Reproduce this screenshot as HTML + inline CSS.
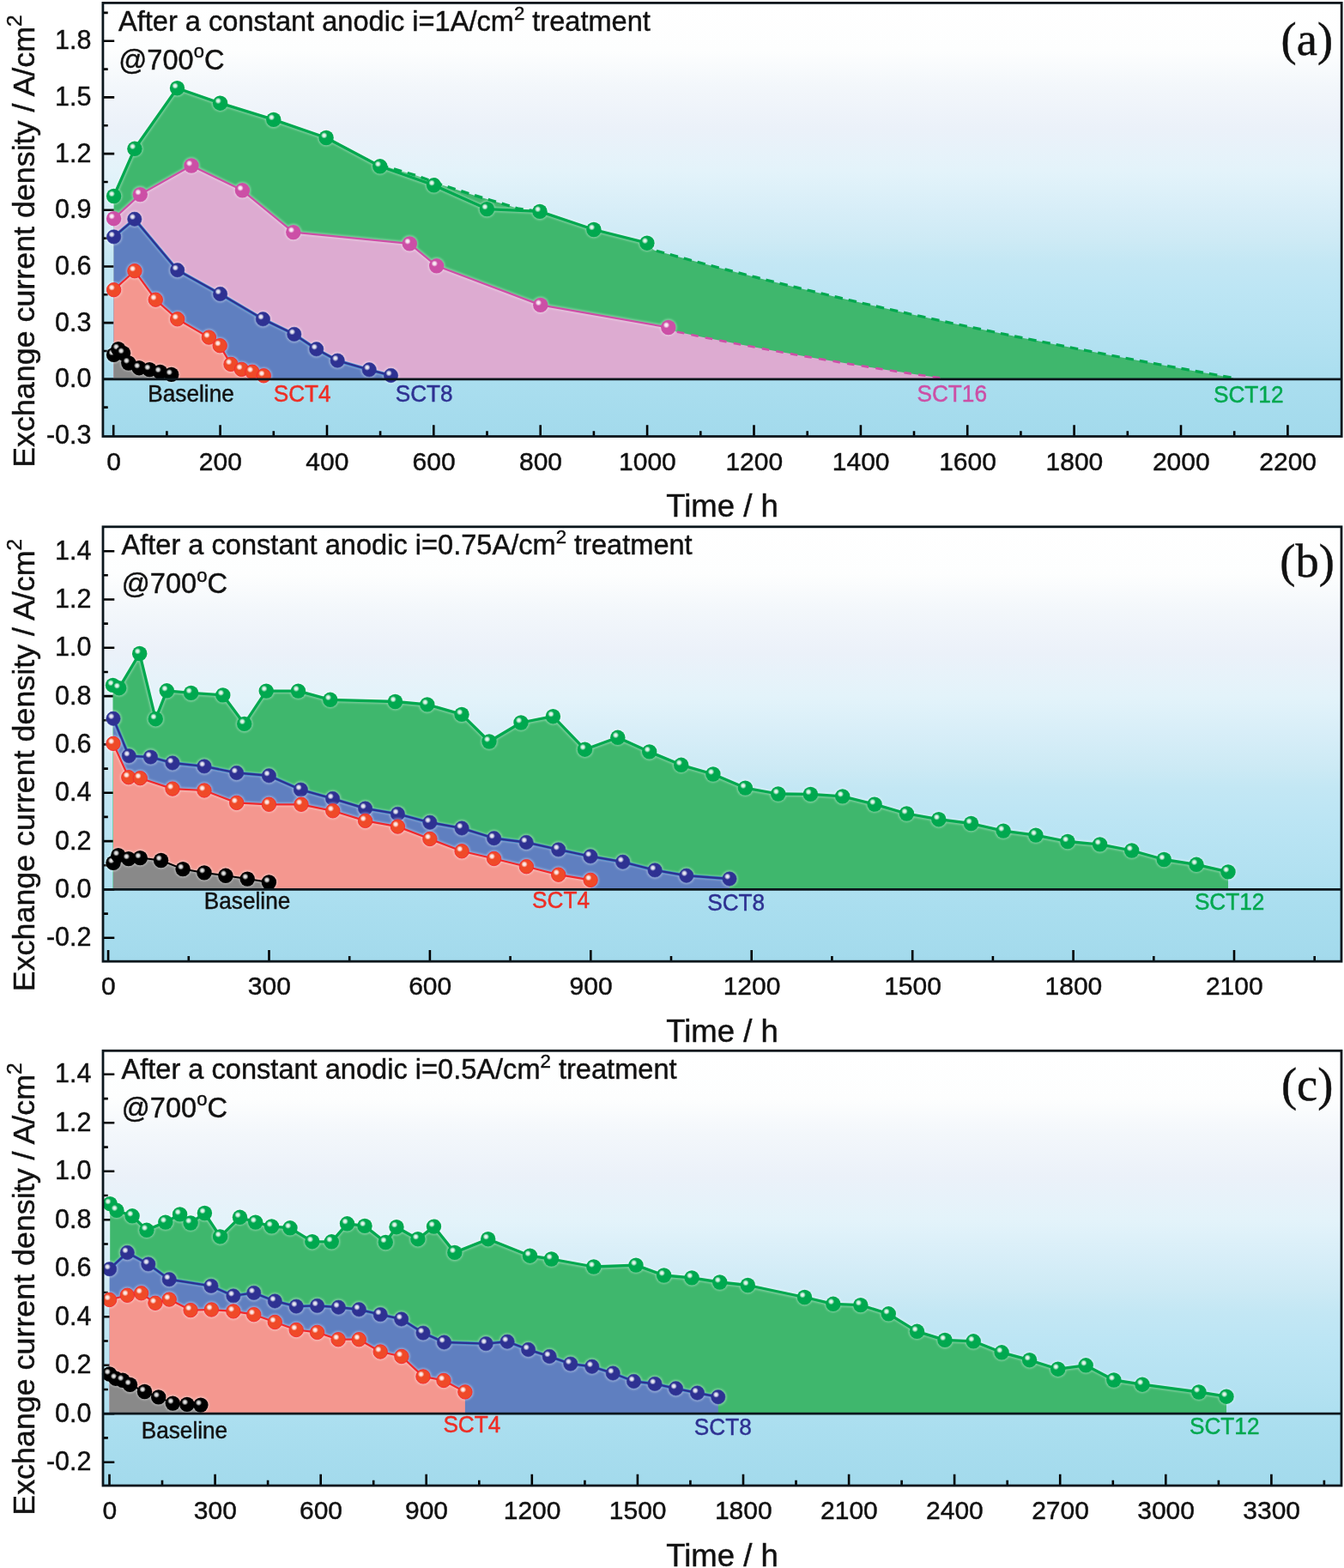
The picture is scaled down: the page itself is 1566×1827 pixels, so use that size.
<!DOCTYPE html>
<html><head><meta charset="utf-8"><title>Exchange current density vs time</title>
<style>html,body{margin:0;padding:0;background:#fff;}body{width:1566px;height:1827px;overflow:hidden;}svg{display:block;}text{font-family:"Liberation Sans",Arial,sans-serif;stroke-width:0.45;}.ser{font-family:"Liberation Serif","Times New Roman",serif;}</style>
</head><body>
<svg width="1566" height="1827" viewBox="0 0 1566 1827">
<defs>
<linearGradient id="bga" x1="0" y1="3.4" x2="0" y2="508.5" gradientUnits="userSpaceOnUse">
<stop offset="0" stop-color="#ffffff"/><stop offset="0.11" stop-color="#fdfefe"/><stop offset="0.19" stop-color="#f3f7fb"/><stop offset="0.29" stop-color="#ebf1f9"/><stop offset="0.39" stop-color="#e3f3fa"/><stop offset="0.47" stop-color="#d8eef8"/><stop offset="0.55" stop-color="#cdeaf5"/><stop offset="0.6" stop-color="#c3e7f4"/><stop offset="0.67" stop-color="#bce5f4"/><stop offset="0.79" stop-color="#b2e1f1"/><stop offset="0.87" stop-color="#aadeef"/><stop offset="1" stop-color="#a3daec"/>
</linearGradient>
<linearGradient id="bgb" x1="0" y1="613.8" x2="0" y2="1120.2" gradientUnits="userSpaceOnUse">
<stop offset="0" stop-color="#ffffff"/><stop offset="0.11" stop-color="#fdfefe"/><stop offset="0.19" stop-color="#f3f7fb"/><stop offset="0.29" stop-color="#ebf1f9"/><stop offset="0.39" stop-color="#e3f3fa"/><stop offset="0.47" stop-color="#d8eef8"/><stop offset="0.55" stop-color="#cdeaf5"/><stop offset="0.6" stop-color="#c3e7f4"/><stop offset="0.67" stop-color="#bce5f4"/><stop offset="0.79" stop-color="#b2e1f1"/><stop offset="0.87" stop-color="#aadeef"/><stop offset="1" stop-color="#a3daec"/>
</linearGradient>
<linearGradient id="bgc" x1="0" y1="1224.3" x2="0" y2="1731" gradientUnits="userSpaceOnUse">
<stop offset="0" stop-color="#ffffff"/><stop offset="0.11" stop-color="#fdfefe"/><stop offset="0.19" stop-color="#f3f7fb"/><stop offset="0.29" stop-color="#ebf1f9"/><stop offset="0.39" stop-color="#e3f3fa"/><stop offset="0.47" stop-color="#d8eef8"/><stop offset="0.55" stop-color="#cdeaf5"/><stop offset="0.6" stop-color="#c3e7f4"/><stop offset="0.67" stop-color="#bce5f4"/><stop offset="0.79" stop-color="#b2e1f1"/><stop offset="0.87" stop-color="#aadeef"/><stop offset="1" stop-color="#a3daec"/>
</linearGradient>
<radialGradient id="hl"><stop offset="0" stop-color="#fff" stop-opacity="0.95"/><stop offset="0.45" stop-color="#fff" stop-opacity="0.8"/><stop offset="1" stop-color="#fff" stop-opacity="0"/></radialGradient>
<filter id="hb" x="-5%" y="-5%" width="110%" height="110%"><feGaussianBlur stdDeviation="0.9"/></filter>
</defs>
<rect width="1566" height="1827" fill="#fff"/>
<rect x="119.9" y="3.4" width="1443.3" height="505.1" fill="url(#bga)"/>
<path d="M119.9 474.6H125.7M119.9 441.8H133.2M119.9 409H125.7M119.9 376.1H133.2M119.9 343.3H125.7M119.9 310.5H133.2M119.9 277.6H125.7M119.9 244.8H133.2M119.9 212H125.7M119.9 179.1H133.2M119.9 146.3H125.7M119.9 113.4H133.2M119.9 80.6H125.7M119.9 47.8H133.2M119.9 14.9H125.7M132.2 508.5V495.2M194.4 508.5V502.2M256.6 508.5V495.2M318.8 508.5V502.2M381 508.5V495.2M443.1 508.5V502.2M505.3 508.5V495.2M567.5 508.5V502.2M629.7 508.5V495.2M691.9 508.5V502.2M754.1 508.5V495.2M816.3 508.5V502.2M878.5 508.5V495.2M940.7 508.5V502.2M1002.9 508.5V495.2M1065 508.5V502.2M1127.2 508.5V495.2M1189.4 508.5V502.2M1251.6 508.5V495.2M1313.8 508.5V502.2M1376 508.5V495.2M1438.2 508.5V502.2M1500.4 508.5V495.2" stroke="#000" stroke-width="2.6" fill="none"/>
<polygon points="132.6,441.8 132.6,228.5 156.9,173.3 206.5,102.7 256.6,120.2 318.8,139.4 380.1,160.5 442.8,193.8 452.8,195 483.6,204.1 517.2,216.2 550.7,226.9 570.8,233 590.9,239 604.3,243.2 629,246.4 691.9,267.5 753.9,283.2 762,291.4 774,294.7 786,298 798,301.3 810,304.6 822,307.8 834,311 846,314.1 858,317.2 870,320.3 882,323.4 894,326.5 906,329.5 918,332.4 930,335.4 942,338.3 954,341.2 966,344.1 978,346.9 990,349.8 1002,352.6 1014,355.3 1026,358.1 1038,360.8 1050,363.5 1062,366.2 1074,368.8 1086,371.5 1098,374.1 1110,376.7 1122,379.2 1134,381.8 1146,384.3 1158,386.8 1170,389.3 1182,391.8 1194,394.2 1206,396.6 1218,399 1230,401.4 1242,403.8 1254,406.2 1266,408.5 1278,410.8 1290,413.2 1302,415.5 1314,417.7 1326,420 1338,422.3 1350,424.5 1362,426.7 1374,429 1386,431.2 1398,433.4 1410,435.5 1422,437.7 1434,439.9 1437,440.6 1437,441.8" fill="#3fb76d"/>
<g opacity="0.35" filter="url(#hb)"><polyline points="132.6,228.5 156.9,173.3 206.5,102.7 256.6,120.2 318.8,139.4 380.1,160.5 442.8,193.8 505.5,215.8 567.4,243.6 629,246.4 691.9,267.5 753.9,283.2" fill="none" stroke="#fff" stroke-width="5.9" stroke-linejoin="round"/><circle cx="132.6" cy="228.5" r="10" fill="#fff"/><circle cx="156.9" cy="173.3" r="10" fill="#fff"/><circle cx="206.5" cy="102.7" r="10" fill="#fff"/><circle cx="256.6" cy="120.2" r="10" fill="#fff"/><circle cx="318.8" cy="139.4" r="10" fill="#fff"/><circle cx="380.1" cy="160.5" r="10" fill="#fff"/><circle cx="442.8" cy="193.8" r="10" fill="#fff"/><circle cx="505.5" cy="215.8" r="10" fill="#fff"/><circle cx="567.4" cy="243.6" r="10" fill="#fff"/><circle cx="629" cy="246.4" r="10" fill="#fff"/><circle cx="691.9" cy="267.5" r="10" fill="#fff"/><circle cx="753.9" cy="283.2" r="10" fill="#fff"/></g>
<polyline points="132.6,228.5 156.9,173.3 206.5,102.7 256.6,120.2 318.8,139.4 380.1,160.5 442.8,193.8 505.5,215.8 567.4,243.6 629,246.4 691.9,267.5 753.9,283.2" fill="none" stroke="#00a84f" stroke-width="3.3" stroke-linejoin="round"/>
<polyline points="753.9,283.2 762,291.4 774,294.7 786,298 798,301.3 810,304.6 822,307.8 834,311 846,314.1 858,317.2 870,320.3 882,323.4 894,326.5 906,329.5 918,332.4 930,335.4 942,338.3 954,341.2 966,344.1 978,346.9 990,349.8 1002,352.6 1014,355.3 1026,358.1 1038,360.8 1050,363.5 1062,366.2 1074,368.8 1086,371.5 1098,374.1 1110,376.7 1122,379.2 1134,381.8 1146,384.3 1158,386.8 1170,389.3 1182,391.8 1194,394.2 1206,396.6 1218,399 1230,401.4 1242,403.8 1254,406.2 1266,408.5 1278,410.8 1290,413.2 1302,415.5 1314,417.7 1326,420 1338,422.3 1350,424.5 1362,426.7 1374,429 1386,431.2 1398,433.4 1410,435.5 1422,437.7 1434,439.9 1437,440.6" fill="none" stroke="#00a84f" stroke-width="3.2" stroke-dasharray="9.5 7" stroke-dashoffset="2"/>
<polyline points="442.8,193.8 452.8,195 483.6,204.1 517.2,216.2 550.7,226.9 570.8,233 590.9,239 604.3,243.2 629,246.4" fill="none" stroke="#00a84f" stroke-width="3.2" stroke-dasharray="9.5 7"/>
<circle cx="132.6" cy="228.5" r="8.7" fill="#00a84f"/><circle cx="130.2" cy="225.8" r="3.8" fill="url(#hl)"/><circle cx="156.9" cy="173.3" r="8.7" fill="#00a84f"/><circle cx="154.5" cy="170.6" r="3.8" fill="url(#hl)"/><circle cx="206.5" cy="102.7" r="8.7" fill="#00a84f"/><circle cx="204.1" cy="100" r="3.8" fill="url(#hl)"/><circle cx="256.6" cy="120.2" r="8.7" fill="#00a84f"/><circle cx="254.2" cy="117.5" r="3.8" fill="url(#hl)"/><circle cx="318.8" cy="139.4" r="8.7" fill="#00a84f"/><circle cx="316.4" cy="136.7" r="3.8" fill="url(#hl)"/><circle cx="380.1" cy="160.5" r="8.7" fill="#00a84f"/><circle cx="377.7" cy="157.8" r="3.8" fill="url(#hl)"/><circle cx="442.8" cy="193.8" r="8.7" fill="#00a84f"/><circle cx="440.4" cy="191.1" r="3.8" fill="url(#hl)"/><circle cx="505.5" cy="215.8" r="8.7" fill="#00a84f"/><circle cx="503.1" cy="213.1" r="3.8" fill="url(#hl)"/><circle cx="567.4" cy="243.6" r="8.7" fill="#00a84f"/><circle cx="565" cy="240.9" r="3.8" fill="url(#hl)"/><circle cx="629" cy="246.4" r="8.7" fill="#00a84f"/><circle cx="626.6" cy="243.7" r="3.8" fill="url(#hl)"/><circle cx="691.9" cy="267.5" r="8.7" fill="#00a84f"/><circle cx="689.5" cy="264.8" r="3.8" fill="url(#hl)"/><circle cx="753.9" cy="283.2" r="8.7" fill="#00a84f"/><circle cx="751.5" cy="280.5" r="3.8" fill="url(#hl)"/>
<polygon points="132.6,441.8 132.6,254.7 163.3,226.6 223,193 282.4,221.8 341.8,270.6 477.3,283.9 508.7,309.8 629.8,355.4 778.8,381.5 786,386.1 798,388.5 810,391 822,393.4 834,395.8 846,398.1 858,400.5 870,402.8 882,405 894,407.3 906,409.5 918,411.6 930,413.8 942,415.9 954,418 966,420 978,422.1 990,424.1 1002,426 1014,427.9 1026,429.9 1038,431.7 1050,433.6 1062,435.4 1074,437.2 1086,438.9 1096,440.5 1096,441.8" fill="#ddabd1"/>
<g opacity="0.35" filter="url(#hb)"><polyline points="132.6,254.7 163.3,226.6 223,193 282.4,221.8 341.8,270.6 477.3,283.9 508.7,309.8 629.8,355.4 778.8,381.5" fill="none" stroke="#fff" stroke-width="4.800000000000001" stroke-linejoin="round"/><circle cx="132.6" cy="254.7" r="10" fill="#fff"/><circle cx="163.3" cy="226.6" r="10" fill="#fff"/><circle cx="223" cy="193" r="10" fill="#fff"/><circle cx="282.4" cy="221.8" r="10" fill="#fff"/><circle cx="341.8" cy="270.6" r="10" fill="#fff"/><circle cx="477.3" cy="283.9" r="10" fill="#fff"/><circle cx="508.7" cy="309.8" r="10" fill="#fff"/><circle cx="629.8" cy="355.4" r="10" fill="#fff"/><circle cx="778.8" cy="381.5" r="10" fill="#fff"/></g>
<polyline points="132.6,254.7 163.3,226.6 223,193 282.4,221.8 341.8,270.6 477.3,283.9 508.7,309.8 629.8,355.4 778.8,381.5" fill="none" stroke="#cc4fa6" stroke-width="2.2" stroke-linejoin="round"/>
<polyline points="778.8,381.5 786,386.1 798,388.5 810,391 822,393.4 834,395.8 846,398.1 858,400.5 870,402.8 882,405 894,407.3 906,409.5 918,411.6 930,413.8 942,415.9 954,418 966,420 978,422.1 990,424.1 1002,426 1014,427.9 1026,429.9 1038,431.7 1050,433.6 1062,435.4 1074,437.2 1086,438.9 1096,440.5" fill="none" stroke="#cc4fa6" stroke-width="2.6" stroke-dasharray="8.5 8.3" stroke-dashoffset="5.3"/>
<circle cx="132.6" cy="254.7" r="8.7" fill="#cc4fa6"/><circle cx="130.2" cy="252" r="3.8" fill="url(#hl)"/><circle cx="163.3" cy="226.6" r="8.7" fill="#cc4fa6"/><circle cx="160.9" cy="223.9" r="3.8" fill="url(#hl)"/><circle cx="223" cy="193" r="8.7" fill="#cc4fa6"/><circle cx="220.6" cy="190.3" r="3.8" fill="url(#hl)"/><circle cx="282.4" cy="221.8" r="8.7" fill="#cc4fa6"/><circle cx="280" cy="219.1" r="3.8" fill="url(#hl)"/><circle cx="341.8" cy="270.6" r="8.7" fill="#cc4fa6"/><circle cx="339.4" cy="267.9" r="3.8" fill="url(#hl)"/><circle cx="477.3" cy="283.9" r="8.7" fill="#cc4fa6"/><circle cx="474.9" cy="281.2" r="3.8" fill="url(#hl)"/><circle cx="508.7" cy="309.8" r="8.7" fill="#cc4fa6"/><circle cx="506.3" cy="307.1" r="3.8" fill="url(#hl)"/><circle cx="629.8" cy="355.4" r="8.7" fill="#cc4fa6"/><circle cx="627.4" cy="352.7" r="3.8" fill="url(#hl)"/><circle cx="778.8" cy="381.5" r="8.7" fill="#cc4fa6"/><circle cx="776.4" cy="378.8" r="3.8" fill="url(#hl)"/>
<polygon points="132.6,441.8 132.6,275.9 156.8,255.3 206.7,314.7 256.6,342.5 306.4,371.8 342.8,389.4 368.7,406.8 393.2,420.1 430.2,430.8 455.5,437.5 455.5,441.8" fill="#5f7fc0"/>
<g opacity="0.35" filter="url(#hb)"><polyline points="132.6,275.9 156.8,255.3 206.7,314.7 256.6,342.5 306.4,371.8 342.8,389.4 368.7,406.8 393.2,420.1 430.2,430.8 455.5,437.5" fill="none" stroke="#fff" stroke-width="5.0" stroke-linejoin="round"/><circle cx="132.6" cy="275.9" r="10" fill="#fff"/><circle cx="156.8" cy="255.3" r="10" fill="#fff"/><circle cx="206.7" cy="314.7" r="10" fill="#fff"/><circle cx="256.6" cy="342.5" r="10" fill="#fff"/><circle cx="306.4" cy="371.8" r="10" fill="#fff"/><circle cx="342.8" cy="389.4" r="10" fill="#fff"/><circle cx="368.7" cy="406.8" r="10" fill="#fff"/><circle cx="393.2" cy="420.1" r="10" fill="#fff"/><circle cx="430.2" cy="430.8" r="10" fill="#fff"/><circle cx="455.5" cy="437.5" r="10" fill="#fff"/></g>
<polyline points="132.6,275.9 156.8,255.3 206.7,314.7 256.6,342.5 306.4,371.8 342.8,389.4 368.7,406.8 393.2,420.1 430.2,430.8 455.5,437.5" fill="none" stroke="#2a8ad0" stroke-width="3.8" stroke-linejoin="round" opacity="0.8"/>
<polyline points="132.6,275.9 156.8,255.3 206.7,314.7 256.6,342.5 306.4,371.8 342.8,389.4 368.7,406.8 393.2,420.1 430.2,430.8 455.5,437.5" fill="none" stroke="#2e3192" stroke-width="2.4" stroke-linejoin="round"/>
<circle cx="132.6" cy="275.9" r="8.2" fill="#2e3192" stroke="#2a3a9c" stroke-width="0.6"/><circle cx="130.2" cy="273.2" r="3.8" fill="url(#hl)"/><circle cx="156.8" cy="255.3" r="8.2" fill="#2e3192" stroke="#2a3a9c" stroke-width="0.6"/><circle cx="154.4" cy="252.6" r="3.8" fill="url(#hl)"/><circle cx="206.7" cy="314.7" r="8.2" fill="#2e3192" stroke="#2a3a9c" stroke-width="0.6"/><circle cx="204.3" cy="312" r="3.8" fill="url(#hl)"/><circle cx="256.6" cy="342.5" r="8.2" fill="#2e3192" stroke="#2a3a9c" stroke-width="0.6"/><circle cx="254.2" cy="339.8" r="3.8" fill="url(#hl)"/><circle cx="306.4" cy="371.8" r="8.2" fill="#2e3192" stroke="#2a3a9c" stroke-width="0.6"/><circle cx="304" cy="369.1" r="3.8" fill="url(#hl)"/><circle cx="342.8" cy="389.4" r="8.2" fill="#2e3192" stroke="#2a3a9c" stroke-width="0.6"/><circle cx="340.4" cy="386.7" r="3.8" fill="url(#hl)"/><circle cx="368.7" cy="406.8" r="8.2" fill="#2e3192" stroke="#2a3a9c" stroke-width="0.6"/><circle cx="366.3" cy="404.1" r="3.8" fill="url(#hl)"/><circle cx="393.2" cy="420.1" r="8.2" fill="#2e3192" stroke="#2a3a9c" stroke-width="0.6"/><circle cx="390.8" cy="417.4" r="3.8" fill="url(#hl)"/><circle cx="430.2" cy="430.8" r="8.2" fill="#2e3192" stroke="#2a3a9c" stroke-width="0.6"/><circle cx="427.8" cy="428.1" r="3.8" fill="url(#hl)"/><circle cx="455.5" cy="437.5" r="8.2" fill="#2e3192" stroke="#2a3a9c" stroke-width="0.6"/><circle cx="453.1" cy="434.8" r="3.8" fill="url(#hl)"/>
<polygon points="132.6,441.8 132.6,337.7 156.9,315.7 181.3,349.2 206.7,371.8 243.4,393.1 256.2,402.7 269,424.4 281.4,430.4 293.9,433.3 307.3,437.8 307.3,441.8" fill="#f4978f"/>
<g opacity="0.35" filter="url(#hb)"><polyline points="132.6,337.7 156.9,315.7 181.3,349.2 206.7,371.8 243.4,393.1 256.2,402.7 269,424.4 281.4,430.4 293.9,433.3 307.3,437.8" fill="none" stroke="#fff" stroke-width="4.800000000000001" stroke-linejoin="round"/><circle cx="132.6" cy="337.7" r="10" fill="#fff"/><circle cx="156.9" cy="315.7" r="10" fill="#fff"/><circle cx="181.3" cy="349.2" r="10" fill="#fff"/><circle cx="206.7" cy="371.8" r="10" fill="#fff"/><circle cx="243.4" cy="393.1" r="10" fill="#fff"/><circle cx="256.2" cy="402.7" r="10" fill="#fff"/><circle cx="269" cy="424.4" r="10" fill="#fff"/><circle cx="281.4" cy="430.4" r="10" fill="#fff"/><circle cx="293.9" cy="433.3" r="10" fill="#fff"/><circle cx="307.3" cy="437.8" r="10" fill="#fff"/></g>
<polyline points="132.6,337.7 156.9,315.7 181.3,349.2 206.7,371.8 243.4,393.1 256.2,402.7 269,424.4 281.4,430.4 293.9,433.3 307.3,437.8" fill="none" stroke="#f0282c" stroke-width="2.2" stroke-linejoin="round"/>
<circle cx="132.6" cy="337.7" r="8.2" fill="#ef4a28" stroke="#f5262e" stroke-width="0.9"/><circle cx="130.2" cy="335" r="3.8" fill="url(#hl)"/><circle cx="156.9" cy="315.7" r="8.2" fill="#ef4a28" stroke="#f5262e" stroke-width="0.9"/><circle cx="154.5" cy="313" r="3.8" fill="url(#hl)"/><circle cx="181.3" cy="349.2" r="8.2" fill="#ef4a28" stroke="#f5262e" stroke-width="0.9"/><circle cx="178.9" cy="346.5" r="3.8" fill="url(#hl)"/><circle cx="206.7" cy="371.8" r="8.2" fill="#ef4a28" stroke="#f5262e" stroke-width="0.9"/><circle cx="204.3" cy="369.1" r="3.8" fill="url(#hl)"/><circle cx="243.4" cy="393.1" r="8.2" fill="#ef4a28" stroke="#f5262e" stroke-width="0.9"/><circle cx="241" cy="390.4" r="3.8" fill="url(#hl)"/><circle cx="256.2" cy="402.7" r="8.2" fill="#ef4a28" stroke="#f5262e" stroke-width="0.9"/><circle cx="253.8" cy="400" r="3.8" fill="url(#hl)"/><circle cx="269" cy="424.4" r="8.2" fill="#ef4a28" stroke="#f5262e" stroke-width="0.9"/><circle cx="266.6" cy="421.7" r="3.8" fill="url(#hl)"/><circle cx="281.4" cy="430.4" r="8.2" fill="#ef4a28" stroke="#f5262e" stroke-width="0.9"/><circle cx="279" cy="427.7" r="3.8" fill="url(#hl)"/><circle cx="293.9" cy="433.3" r="8.2" fill="#ef4a28" stroke="#f5262e" stroke-width="0.9"/><circle cx="291.5" cy="430.6" r="3.8" fill="url(#hl)"/><circle cx="307.3" cy="437.8" r="8.2" fill="#ef4a28" stroke="#f5262e" stroke-width="0.9"/><circle cx="304.9" cy="435.1" r="3.8" fill="url(#hl)"/>
<polygon points="132.6,441.8 132.6,413.4 137.8,406.7 143.5,411.5 149.8,423 162.1,428.7 174.2,430.6 186.6,433.5 199.7,436.4 199.7,441.8" fill="#898989"/>
<g opacity="0.35" filter="url(#hb)"><polyline points="132.6,413.4 137.8,406.7 143.5,411.5 149.8,423 162.1,428.7 174.2,430.6 186.6,433.5 199.7,436.4" fill="none" stroke="#fff" stroke-width="4.6" stroke-linejoin="round"/><circle cx="132.6" cy="413.4" r="10" fill="#fff"/><circle cx="137.8" cy="406.7" r="10" fill="#fff"/><circle cx="143.5" cy="411.5" r="10" fill="#fff"/><circle cx="149.8" cy="423" r="10" fill="#fff"/><circle cx="162.1" cy="428.7" r="10" fill="#fff"/><circle cx="174.2" cy="430.6" r="10" fill="#fff"/><circle cx="186.6" cy="433.5" r="10" fill="#fff"/><circle cx="199.7" cy="436.4" r="10" fill="#fff"/></g>
<polyline points="132.6,413.4 137.8,406.7 143.5,411.5 149.8,423 162.1,428.7 174.2,430.6 186.6,433.5 199.7,436.4" fill="none" stroke="#000000" stroke-width="2.0" stroke-linejoin="round"/>
<circle cx="132.6" cy="413.4" r="8.7" fill="#000000"/><circle cx="130.2" cy="410.7" r="3.8" fill="url(#hl)"/><circle cx="137.8" cy="406.7" r="8.7" fill="#000000"/><circle cx="135.4" cy="404" r="3.8" fill="url(#hl)"/><circle cx="143.5" cy="411.5" r="8.7" fill="#000000"/><circle cx="141.1" cy="408.8" r="3.8" fill="url(#hl)"/><circle cx="149.8" cy="423" r="8.7" fill="#000000"/><circle cx="147.4" cy="420.3" r="3.8" fill="url(#hl)"/><circle cx="162.1" cy="428.7" r="8.7" fill="#000000"/><circle cx="159.7" cy="426" r="3.8" fill="url(#hl)"/><circle cx="174.2" cy="430.6" r="8.7" fill="#000000"/><circle cx="171.8" cy="427.9" r="3.8" fill="url(#hl)"/><circle cx="186.6" cy="433.5" r="8.7" fill="#000000"/><circle cx="184.2" cy="430.8" r="3.8" fill="url(#hl)"/><circle cx="199.7" cy="436.4" r="8.7" fill="#000000"/><circle cx="197.3" cy="433.7" r="3.8" fill="url(#hl)"/>
<line x1="119.9" y1="441.8" x2="1563.2" y2="441.8" stroke="#0b161c" stroke-width="2.8"/>
<rect x="119.9" y="3.4" width="1443.3" height="505.1" fill="none" stroke="#0b161c" stroke-width="2.8"/>
<text x="106.5" y="517.1" font-size="30.5" text-anchor="end" fill="#111" stroke="#111">-0.3</text>
<text x="106.5" y="451.4" font-size="30.5" text-anchor="end" fill="#111" stroke="#111">0.0</text>
<text x="106.5" y="385.7" font-size="30.5" text-anchor="end" fill="#111" stroke="#111">0.3</text>
<text x="106.5" y="320.1" font-size="30.5" text-anchor="end" fill="#111" stroke="#111">0.6</text>
<text x="106.5" y="254.4" font-size="30.5" text-anchor="end" fill="#111" stroke="#111">0.9</text>
<text x="106.5" y="188.7" font-size="30.5" text-anchor="end" fill="#111" stroke="#111">1.2</text>
<text x="106.5" y="123" font-size="30.5" text-anchor="end" fill="#111" stroke="#111">1.5</text>
<text x="106.5" y="57.4" font-size="30.5" text-anchor="end" fill="#111" stroke="#111">1.8</text>
<text x="132.5" y="547.5" font-size="30" text-anchor="middle" fill="#111" stroke="#111">0</text>
<text x="256.9" y="547.5" font-size="30" text-anchor="middle" fill="#111" stroke="#111">200</text>
<text x="381.3" y="547.5" font-size="30" text-anchor="middle" fill="#111" stroke="#111">400</text>
<text x="505.6" y="547.5" font-size="30" text-anchor="middle" fill="#111" stroke="#111">600</text>
<text x="630" y="547.5" font-size="30" text-anchor="middle" fill="#111" stroke="#111">800</text>
<text x="754.4" y="547.5" font-size="30" text-anchor="middle" fill="#111" stroke="#111">1000</text>
<text x="878.8" y="547.5" font-size="30" text-anchor="middle" fill="#111" stroke="#111">1200</text>
<text x="1003.2" y="547.5" font-size="30" text-anchor="middle" fill="#111" stroke="#111">1400</text>
<text x="1127.5" y="547.5" font-size="30" text-anchor="middle" fill="#111" stroke="#111">1600</text>
<text x="1251.9" y="547.5" font-size="30" text-anchor="middle" fill="#111" stroke="#111">1800</text>
<text x="1376.3" y="547.5" font-size="30" text-anchor="middle" fill="#111" stroke="#111">2000</text>
<text x="1500.7" y="547.5" font-size="30" text-anchor="middle" fill="#111" stroke="#111">2200</text>
<text x="841.5" y="602.3" font-size="36.5" text-anchor="middle" fill="#111" stroke="#111">Time / h</text>
<text transform="translate(39.8 544.8) rotate(-90)" font-size="35.85" fill="#111" stroke="#111">Exchange current density / A/cm<tspan font-size="24.5" dy="-14.5">2</tspan></text>
<text x="138" y="35.8" font-size="32.6" fill="#111" stroke="#111">After a constant anodic i=1A/cm<tspan font-size="22.2" dy="-12.8">2</tspan><tspan dy="12.8"> treatment</tspan></text>
<text x="138.3" y="80.6" font-size="32.6" fill="#111" stroke="#111">@700<tspan font-size="22" dy="-13.5">o</tspan><tspan dy="13.5">C</tspan></text>
<text class="ser" x="1553.1" y="63.7" font-size="54.5" text-anchor="end" fill="#111" stroke="#111">(a)</text>
<text transform="translate(172.3 468) scale(1 1.04)" font-size="26.2" fill="#111111" stroke="#111111" stroke-width="0.75">Baseline</text>
<text transform="translate(318.7 468) scale(1 1.04)" font-size="26.2" fill="#ee2d24" stroke="#ee2d24" stroke-width="0.75">SCT4</text>
<text transform="translate(460.7 468) scale(1 1.04)" font-size="26.2" fill="#2e3192" stroke="#2e3192" stroke-width="0.75">SCT8</text>
<text transform="translate(1068.5 468) scale(1 1.08)" font-size="26.2" fill="#cc4fa6" stroke="#cc4fa6" stroke-width="0.75">SCT16</text>
<text transform="translate(1414 468.5) scale(1 1.08)" font-size="26.2" fill="#00a84f" stroke="#00a84f" stroke-width="0.75">SCT12</text>
<rect x="120" y="613.8" width="1443" height="506.4" fill="url(#bgb)"/>
<path d="M120 1092.7H133.3M120 1064.6H125.8M120 1036.4H133.3M120 1008.2H125.8M120 980.1H133.3M120 951.9H125.8M120 923.8H133.3M120 895.6H125.8M120 867.4H133.3M120 839.3H125.8M120 811.1H133.3M120 783H125.8M120 754.8H133.3M120 726.6H125.8M120 698.5H133.3M120 670.3H125.8M120 642.2H133.3M126.1 1120.2V1106.9M219.8 1120.2V1113.9M313.5 1120.2V1106.9M407.2 1120.2V1113.9M500.9 1120.2V1106.9M594.6 1120.2V1113.9M688.3 1120.2V1106.9M782 1120.2V1113.9M875.7 1120.2V1106.9M969.4 1120.2V1113.9M1063.2 1120.2V1106.9M1156.9 1120.2V1113.9M1250.6 1120.2V1106.9M1344.3 1120.2V1113.9M1438 1120.2V1106.9M1531.7 1120.2V1113.9" stroke="#000" stroke-width="2.6" fill="none"/>
<polygon points="131.5,1036.4 131.5,798.4 138.7,801.7 162.7,761.5 181.3,837.7 194.3,804.8 222.6,807.4 259.8,809.9 284.7,843.4 310.2,805.1 347.5,805.1 384.8,815.3 460.5,817.5 497.8,820.9 538,832.4 570,864 607,842 644.4,834.7 681.5,873.2 719.8,859.3 756.7,875.9 793.7,891.3 830.9,902 868.4,918.1 906.7,925 944.4,925.4 981.7,927.9 1019.1,937.1 1056.4,948 1093.8,954.7 1131.5,959.5 1169.1,968.1 1206.9,973.1 1244,980.5 1281.6,983.9 1318.7,991 1356.3,1001.5 1394,1007.3 1431,1015.9 1431,1036.4" fill="#3fb76d"/>
<g opacity="0.35" filter="url(#hb)"><polyline points="131.5,798.4 138.7,801.7 162.7,761.5 181.3,837.7 194.3,804.8 222.6,807.4 259.8,809.9 284.7,843.4 310.2,805.1 347.5,805.1 384.8,815.3 460.5,817.5 497.8,820.9 538,832.4 570,864 607,842 644.4,834.7 681.5,873.2 719.8,859.3 756.7,875.9 793.7,891.3 830.9,902 868.4,918.1 906.7,925 944.4,925.4 981.7,927.9 1019.1,937.1 1056.4,948 1093.8,954.7 1131.5,959.5 1169.1,968.1 1206.9,973.1 1244,980.5 1281.6,983.9 1318.7,991 1356.3,1001.5 1394,1007.3 1431,1015.9" fill="none" stroke="#fff" stroke-width="5.9" stroke-linejoin="round"/><circle cx="131.5" cy="798.4" r="10" fill="#fff"/><circle cx="138.7" cy="801.7" r="10" fill="#fff"/><circle cx="162.7" cy="761.5" r="10" fill="#fff"/><circle cx="181.3" cy="837.7" r="10" fill="#fff"/><circle cx="194.3" cy="804.8" r="10" fill="#fff"/><circle cx="222.6" cy="807.4" r="10" fill="#fff"/><circle cx="259.8" cy="809.9" r="10" fill="#fff"/><circle cx="284.7" cy="843.4" r="10" fill="#fff"/><circle cx="310.2" cy="805.1" r="10" fill="#fff"/><circle cx="347.5" cy="805.1" r="10" fill="#fff"/><circle cx="384.8" cy="815.3" r="10" fill="#fff"/><circle cx="460.5" cy="817.5" r="10" fill="#fff"/><circle cx="497.8" cy="820.9" r="10" fill="#fff"/><circle cx="538" cy="832.4" r="10" fill="#fff"/><circle cx="570" cy="864" r="10" fill="#fff"/><circle cx="607" cy="842" r="10" fill="#fff"/><circle cx="644.4" cy="834.7" r="10" fill="#fff"/><circle cx="681.5" cy="873.2" r="10" fill="#fff"/><circle cx="719.8" cy="859.3" r="10" fill="#fff"/><circle cx="756.7" cy="875.9" r="10" fill="#fff"/><circle cx="793.7" cy="891.3" r="10" fill="#fff"/><circle cx="830.9" cy="902" r="10" fill="#fff"/><circle cx="868.4" cy="918.1" r="10" fill="#fff"/><circle cx="906.7" cy="925" r="10" fill="#fff"/><circle cx="944.4" cy="925.4" r="10" fill="#fff"/><circle cx="981.7" cy="927.9" r="10" fill="#fff"/><circle cx="1019.1" cy="937.1" r="10" fill="#fff"/><circle cx="1056.4" cy="948" r="10" fill="#fff"/><circle cx="1093.8" cy="954.7" r="10" fill="#fff"/><circle cx="1131.5" cy="959.5" r="10" fill="#fff"/><circle cx="1169.1" cy="968.1" r="10" fill="#fff"/><circle cx="1206.9" cy="973.1" r="10" fill="#fff"/><circle cx="1244" cy="980.5" r="10" fill="#fff"/><circle cx="1281.6" cy="983.9" r="10" fill="#fff"/><circle cx="1318.7" cy="991" r="10" fill="#fff"/><circle cx="1356.3" cy="1001.5" r="10" fill="#fff"/><circle cx="1394" cy="1007.3" r="10" fill="#fff"/><circle cx="1431" cy="1015.9" r="10" fill="#fff"/></g>
<polyline points="131.5,798.4 138.7,801.7 162.7,761.5 181.3,837.7 194.3,804.8 222.6,807.4 259.8,809.9 284.7,843.4 310.2,805.1 347.5,805.1 384.8,815.3 460.5,817.5 497.8,820.9 538,832.4 570,864 607,842 644.4,834.7 681.5,873.2 719.8,859.3 756.7,875.9 793.7,891.3 830.9,902 868.4,918.1 906.7,925 944.4,925.4 981.7,927.9 1019.1,937.1 1056.4,948 1093.8,954.7 1131.5,959.5 1169.1,968.1 1206.9,973.1 1244,980.5 1281.6,983.9 1318.7,991 1356.3,1001.5 1394,1007.3 1431,1015.9" fill="none" stroke="#00a84f" stroke-width="3.3" stroke-linejoin="round"/>
<circle cx="131.5" cy="798.4" r="8.7" fill="#00a84f"/><circle cx="129.1" cy="795.7" r="3.8" fill="url(#hl)"/><circle cx="138.7" cy="801.7" r="8.7" fill="#00a84f"/><circle cx="136.3" cy="799" r="3.8" fill="url(#hl)"/><circle cx="162.7" cy="761.5" r="8.7" fill="#00a84f"/><circle cx="160.3" cy="758.8" r="3.8" fill="url(#hl)"/><circle cx="181.3" cy="837.7" r="8.7" fill="#00a84f"/><circle cx="178.9" cy="835" r="3.8" fill="url(#hl)"/><circle cx="194.3" cy="804.8" r="8.7" fill="#00a84f"/><circle cx="191.9" cy="802.1" r="3.8" fill="url(#hl)"/><circle cx="222.6" cy="807.4" r="8.7" fill="#00a84f"/><circle cx="220.2" cy="804.7" r="3.8" fill="url(#hl)"/><circle cx="259.8" cy="809.9" r="8.7" fill="#00a84f"/><circle cx="257.4" cy="807.2" r="3.8" fill="url(#hl)"/><circle cx="284.7" cy="843.4" r="8.7" fill="#00a84f"/><circle cx="282.3" cy="840.7" r="3.8" fill="url(#hl)"/><circle cx="310.2" cy="805.1" r="8.7" fill="#00a84f"/><circle cx="307.8" cy="802.4" r="3.8" fill="url(#hl)"/><circle cx="347.5" cy="805.1" r="8.7" fill="#00a84f"/><circle cx="345.1" cy="802.4" r="3.8" fill="url(#hl)"/><circle cx="384.8" cy="815.3" r="8.7" fill="#00a84f"/><circle cx="382.4" cy="812.6" r="3.8" fill="url(#hl)"/><circle cx="460.5" cy="817.5" r="8.7" fill="#00a84f"/><circle cx="458.1" cy="814.8" r="3.8" fill="url(#hl)"/><circle cx="497.8" cy="820.9" r="8.7" fill="#00a84f"/><circle cx="495.4" cy="818.2" r="3.8" fill="url(#hl)"/><circle cx="538" cy="832.4" r="8.7" fill="#00a84f"/><circle cx="535.6" cy="829.7" r="3.8" fill="url(#hl)"/><circle cx="570" cy="864" r="8.7" fill="#00a84f"/><circle cx="567.6" cy="861.3" r="3.8" fill="url(#hl)"/><circle cx="607" cy="842" r="8.7" fill="#00a84f"/><circle cx="604.6" cy="839.3" r="3.8" fill="url(#hl)"/><circle cx="644.4" cy="834.7" r="8.7" fill="#00a84f"/><circle cx="642" cy="832" r="3.8" fill="url(#hl)"/><circle cx="681.5" cy="873.2" r="8.7" fill="#00a84f"/><circle cx="679.1" cy="870.5" r="3.8" fill="url(#hl)"/><circle cx="719.8" cy="859.3" r="8.7" fill="#00a84f"/><circle cx="717.4" cy="856.6" r="3.8" fill="url(#hl)"/><circle cx="756.7" cy="875.9" r="8.7" fill="#00a84f"/><circle cx="754.3" cy="873.2" r="3.8" fill="url(#hl)"/><circle cx="793.7" cy="891.3" r="8.7" fill="#00a84f"/><circle cx="791.3" cy="888.6" r="3.8" fill="url(#hl)"/><circle cx="830.9" cy="902" r="8.7" fill="#00a84f"/><circle cx="828.5" cy="899.3" r="3.8" fill="url(#hl)"/><circle cx="868.4" cy="918.1" r="8.7" fill="#00a84f"/><circle cx="866" cy="915.4" r="3.8" fill="url(#hl)"/><circle cx="906.7" cy="925" r="8.7" fill="#00a84f"/><circle cx="904.3" cy="922.3" r="3.8" fill="url(#hl)"/><circle cx="944.4" cy="925.4" r="8.7" fill="#00a84f"/><circle cx="942" cy="922.7" r="3.8" fill="url(#hl)"/><circle cx="981.7" cy="927.9" r="8.7" fill="#00a84f"/><circle cx="979.3" cy="925.2" r="3.8" fill="url(#hl)"/><circle cx="1019.1" cy="937.1" r="8.7" fill="#00a84f"/><circle cx="1016.7" cy="934.4" r="3.8" fill="url(#hl)"/><circle cx="1056.4" cy="948" r="8.7" fill="#00a84f"/><circle cx="1054" cy="945.3" r="3.8" fill="url(#hl)"/><circle cx="1093.8" cy="954.7" r="8.7" fill="#00a84f"/><circle cx="1091.4" cy="952" r="3.8" fill="url(#hl)"/><circle cx="1131.5" cy="959.5" r="8.7" fill="#00a84f"/><circle cx="1129.1" cy="956.8" r="3.8" fill="url(#hl)"/><circle cx="1169.1" cy="968.1" r="8.7" fill="#00a84f"/><circle cx="1166.7" cy="965.4" r="3.8" fill="url(#hl)"/><circle cx="1206.9" cy="973.1" r="8.7" fill="#00a84f"/><circle cx="1204.5" cy="970.4" r="3.8" fill="url(#hl)"/><circle cx="1244" cy="980.5" r="8.7" fill="#00a84f"/><circle cx="1241.6" cy="977.8" r="3.8" fill="url(#hl)"/><circle cx="1281.6" cy="983.9" r="8.7" fill="#00a84f"/><circle cx="1279.2" cy="981.2" r="3.8" fill="url(#hl)"/><circle cx="1318.7" cy="991" r="8.7" fill="#00a84f"/><circle cx="1316.3" cy="988.3" r="3.8" fill="url(#hl)"/><circle cx="1356.3" cy="1001.5" r="8.7" fill="#00a84f"/><circle cx="1353.9" cy="998.8" r="3.8" fill="url(#hl)"/><circle cx="1394" cy="1007.3" r="8.7" fill="#00a84f"/><circle cx="1391.6" cy="1004.6" r="3.8" fill="url(#hl)"/><circle cx="1431" cy="1015.9" r="8.7" fill="#00a84f"/><circle cx="1428.6" cy="1013.2" r="3.8" fill="url(#hl)"/>
<polygon points="132,1036.4 132,837.3 150.2,880.8 175.5,882.1 201,889 238,892.9 275.7,900.5 313.4,903.8 350.4,920.1 387.6,930.5 425.6,942 463.4,948.4 500.9,958.3 538.1,965 575.6,976.7 613.2,981.5 650.7,989.9 688,997.8 725.7,1004.3 763.1,1013.9 799.8,1020.2 850,1024 850,1036.4" fill="#5f7fc0"/>
<g opacity="0.35" filter="url(#hb)"><polyline points="132,837.3 150.2,880.8 175.5,882.1 201,889 238,892.9 275.7,900.5 313.4,903.8 350.4,920.1 387.6,930.5 425.6,942 463.4,948.4 500.9,958.3 538.1,965 575.6,976.7 613.2,981.5 650.7,989.9 688,997.8 725.7,1004.3 763.1,1013.9 799.8,1020.2 850,1024" fill="none" stroke="#fff" stroke-width="5.0" stroke-linejoin="round"/><circle cx="132" cy="837.3" r="10" fill="#fff"/><circle cx="150.2" cy="880.8" r="10" fill="#fff"/><circle cx="175.5" cy="882.1" r="10" fill="#fff"/><circle cx="201" cy="889" r="10" fill="#fff"/><circle cx="238" cy="892.9" r="10" fill="#fff"/><circle cx="275.7" cy="900.5" r="10" fill="#fff"/><circle cx="313.4" cy="903.8" r="10" fill="#fff"/><circle cx="350.4" cy="920.1" r="10" fill="#fff"/><circle cx="387.6" cy="930.5" r="10" fill="#fff"/><circle cx="425.6" cy="942" r="10" fill="#fff"/><circle cx="463.4" cy="948.4" r="10" fill="#fff"/><circle cx="500.9" cy="958.3" r="10" fill="#fff"/><circle cx="538.1" cy="965" r="10" fill="#fff"/><circle cx="575.6" cy="976.7" r="10" fill="#fff"/><circle cx="613.2" cy="981.5" r="10" fill="#fff"/><circle cx="650.7" cy="989.9" r="10" fill="#fff"/><circle cx="688" cy="997.8" r="10" fill="#fff"/><circle cx="725.7" cy="1004.3" r="10" fill="#fff"/><circle cx="763.1" cy="1013.9" r="10" fill="#fff"/><circle cx="799.8" cy="1020.2" r="10" fill="#fff"/><circle cx="850" cy="1024" r="10" fill="#fff"/></g>
<polyline points="132,837.3 150.2,880.8 175.5,882.1 201,889 238,892.9 275.7,900.5 313.4,903.8 350.4,920.1 387.6,930.5 425.6,942 463.4,948.4 500.9,958.3 538.1,965 575.6,976.7 613.2,981.5 650.7,989.9 688,997.8 725.7,1004.3 763.1,1013.9 799.8,1020.2 850,1024" fill="none" stroke="#2a8ad0" stroke-width="3.8" stroke-linejoin="round" opacity="0.8"/>
<polyline points="132,837.3 150.2,880.8 175.5,882.1 201,889 238,892.9 275.7,900.5 313.4,903.8 350.4,920.1 387.6,930.5 425.6,942 463.4,948.4 500.9,958.3 538.1,965 575.6,976.7 613.2,981.5 650.7,989.9 688,997.8 725.7,1004.3 763.1,1013.9 799.8,1020.2 850,1024" fill="none" stroke="#2e3192" stroke-width="2.4" stroke-linejoin="round"/>
<circle cx="132" cy="837.3" r="8.2" fill="#2e3192" stroke="#2a3a9c" stroke-width="0.6"/><circle cx="129.6" cy="834.6" r="3.8" fill="url(#hl)"/><circle cx="150.2" cy="880.8" r="8.2" fill="#2e3192" stroke="#2a3a9c" stroke-width="0.6"/><circle cx="147.8" cy="878.1" r="3.8" fill="url(#hl)"/><circle cx="175.5" cy="882.1" r="8.2" fill="#2e3192" stroke="#2a3a9c" stroke-width="0.6"/><circle cx="173.1" cy="879.4" r="3.8" fill="url(#hl)"/><circle cx="201" cy="889" r="8.2" fill="#2e3192" stroke="#2a3a9c" stroke-width="0.6"/><circle cx="198.6" cy="886.3" r="3.8" fill="url(#hl)"/><circle cx="238" cy="892.9" r="8.2" fill="#2e3192" stroke="#2a3a9c" stroke-width="0.6"/><circle cx="235.6" cy="890.2" r="3.8" fill="url(#hl)"/><circle cx="275.7" cy="900.5" r="8.2" fill="#2e3192" stroke="#2a3a9c" stroke-width="0.6"/><circle cx="273.3" cy="897.8" r="3.8" fill="url(#hl)"/><circle cx="313.4" cy="903.8" r="8.2" fill="#2e3192" stroke="#2a3a9c" stroke-width="0.6"/><circle cx="311" cy="901.1" r="3.8" fill="url(#hl)"/><circle cx="350.4" cy="920.1" r="8.2" fill="#2e3192" stroke="#2a3a9c" stroke-width="0.6"/><circle cx="348" cy="917.4" r="3.8" fill="url(#hl)"/><circle cx="387.6" cy="930.5" r="8.2" fill="#2e3192" stroke="#2a3a9c" stroke-width="0.6"/><circle cx="385.2" cy="927.8" r="3.8" fill="url(#hl)"/><circle cx="425.6" cy="942" r="8.2" fill="#2e3192" stroke="#2a3a9c" stroke-width="0.6"/><circle cx="423.2" cy="939.3" r="3.8" fill="url(#hl)"/><circle cx="463.4" cy="948.4" r="8.2" fill="#2e3192" stroke="#2a3a9c" stroke-width="0.6"/><circle cx="461" cy="945.7" r="3.8" fill="url(#hl)"/><circle cx="500.9" cy="958.3" r="8.2" fill="#2e3192" stroke="#2a3a9c" stroke-width="0.6"/><circle cx="498.5" cy="955.6" r="3.8" fill="url(#hl)"/><circle cx="538.1" cy="965" r="8.2" fill="#2e3192" stroke="#2a3a9c" stroke-width="0.6"/><circle cx="535.7" cy="962.3" r="3.8" fill="url(#hl)"/><circle cx="575.6" cy="976.7" r="8.2" fill="#2e3192" stroke="#2a3a9c" stroke-width="0.6"/><circle cx="573.2" cy="974" r="3.8" fill="url(#hl)"/><circle cx="613.2" cy="981.5" r="8.2" fill="#2e3192" stroke="#2a3a9c" stroke-width="0.6"/><circle cx="610.8" cy="978.8" r="3.8" fill="url(#hl)"/><circle cx="650.7" cy="989.9" r="8.2" fill="#2e3192" stroke="#2a3a9c" stroke-width="0.6"/><circle cx="648.3" cy="987.2" r="3.8" fill="url(#hl)"/><circle cx="688" cy="997.8" r="8.2" fill="#2e3192" stroke="#2a3a9c" stroke-width="0.6"/><circle cx="685.6" cy="995.1" r="3.8" fill="url(#hl)"/><circle cx="725.7" cy="1004.3" r="8.2" fill="#2e3192" stroke="#2a3a9c" stroke-width="0.6"/><circle cx="723.3" cy="1001.6" r="3.8" fill="url(#hl)"/><circle cx="763.1" cy="1013.9" r="8.2" fill="#2e3192" stroke="#2a3a9c" stroke-width="0.6"/><circle cx="760.7" cy="1011.2" r="3.8" fill="url(#hl)"/><circle cx="799.8" cy="1020.2" r="8.2" fill="#2e3192" stroke="#2a3a9c" stroke-width="0.6"/><circle cx="797.4" cy="1017.5" r="3.8" fill="url(#hl)"/><circle cx="850" cy="1024" r="8.2" fill="#2e3192" stroke="#2a3a9c" stroke-width="0.6"/><circle cx="847.6" cy="1021.3" r="3.8" fill="url(#hl)"/>
<polygon points="132,1036.4 132,866.4 149.8,905.7 163.3,906.7 201,919.1 238,921 275.7,935.4 313.4,937.3 351,937.3 387.8,944.8 425.6,956.4 463.4,963.1 500.9,977.5 538.1,991.8 575.6,1000.5 613.4,1009.7 650.7,1019.2 688.1,1025.4 688.1,1036.4" fill="#f4978f"/>
<g opacity="0.35" filter="url(#hb)"><polyline points="132,866.4 149.8,905.7 163.3,906.7 201,919.1 238,921 275.7,935.4 313.4,937.3 351,937.3 387.8,944.8 425.6,956.4 463.4,963.1 500.9,977.5 538.1,991.8 575.6,1000.5 613.4,1009.7 650.7,1019.2 688.1,1025.4" fill="none" stroke="#fff" stroke-width="4.800000000000001" stroke-linejoin="round"/><circle cx="132" cy="866.4" r="10" fill="#fff"/><circle cx="149.8" cy="905.7" r="10" fill="#fff"/><circle cx="163.3" cy="906.7" r="10" fill="#fff"/><circle cx="201" cy="919.1" r="10" fill="#fff"/><circle cx="238" cy="921" r="10" fill="#fff"/><circle cx="275.7" cy="935.4" r="10" fill="#fff"/><circle cx="313.4" cy="937.3" r="10" fill="#fff"/><circle cx="351" cy="937.3" r="10" fill="#fff"/><circle cx="387.8" cy="944.8" r="10" fill="#fff"/><circle cx="425.6" cy="956.4" r="10" fill="#fff"/><circle cx="463.4" cy="963.1" r="10" fill="#fff"/><circle cx="500.9" cy="977.5" r="10" fill="#fff"/><circle cx="538.1" cy="991.8" r="10" fill="#fff"/><circle cx="575.6" cy="1000.5" r="10" fill="#fff"/><circle cx="613.4" cy="1009.7" r="10" fill="#fff"/><circle cx="650.7" cy="1019.2" r="10" fill="#fff"/><circle cx="688.1" cy="1025.4" r="10" fill="#fff"/></g>
<polyline points="132,866.4 149.8,905.7 163.3,906.7 201,919.1 238,921 275.7,935.4 313.4,937.3 351,937.3 387.8,944.8 425.6,956.4 463.4,963.1 500.9,977.5 538.1,991.8 575.6,1000.5 613.4,1009.7 650.7,1019.2 688.1,1025.4" fill="none" stroke="#f0282c" stroke-width="2.2" stroke-linejoin="round"/>
<circle cx="132" cy="866.4" r="8.2" fill="#ef4a28" stroke="#f5262e" stroke-width="0.9"/><circle cx="129.6" cy="863.7" r="3.8" fill="url(#hl)"/><circle cx="149.8" cy="905.7" r="8.2" fill="#ef4a28" stroke="#f5262e" stroke-width="0.9"/><circle cx="147.4" cy="903" r="3.8" fill="url(#hl)"/><circle cx="163.3" cy="906.7" r="8.2" fill="#ef4a28" stroke="#f5262e" stroke-width="0.9"/><circle cx="160.9" cy="904" r="3.8" fill="url(#hl)"/><circle cx="201" cy="919.1" r="8.2" fill="#ef4a28" stroke="#f5262e" stroke-width="0.9"/><circle cx="198.6" cy="916.4" r="3.8" fill="url(#hl)"/><circle cx="238" cy="921" r="8.2" fill="#ef4a28" stroke="#f5262e" stroke-width="0.9"/><circle cx="235.6" cy="918.3" r="3.8" fill="url(#hl)"/><circle cx="275.7" cy="935.4" r="8.2" fill="#ef4a28" stroke="#f5262e" stroke-width="0.9"/><circle cx="273.3" cy="932.7" r="3.8" fill="url(#hl)"/><circle cx="313.4" cy="937.3" r="8.2" fill="#ef4a28" stroke="#f5262e" stroke-width="0.9"/><circle cx="311" cy="934.6" r="3.8" fill="url(#hl)"/><circle cx="351" cy="937.3" r="8.2" fill="#ef4a28" stroke="#f5262e" stroke-width="0.9"/><circle cx="348.6" cy="934.6" r="3.8" fill="url(#hl)"/><circle cx="387.8" cy="944.8" r="8.2" fill="#ef4a28" stroke="#f5262e" stroke-width="0.9"/><circle cx="385.4" cy="942.1" r="3.8" fill="url(#hl)"/><circle cx="425.6" cy="956.4" r="8.2" fill="#ef4a28" stroke="#f5262e" stroke-width="0.9"/><circle cx="423.2" cy="953.7" r="3.8" fill="url(#hl)"/><circle cx="463.4" cy="963.1" r="8.2" fill="#ef4a28" stroke="#f5262e" stroke-width="0.9"/><circle cx="461" cy="960.4" r="3.8" fill="url(#hl)"/><circle cx="500.9" cy="977.5" r="8.2" fill="#ef4a28" stroke="#f5262e" stroke-width="0.9"/><circle cx="498.5" cy="974.8" r="3.8" fill="url(#hl)"/><circle cx="538.1" cy="991.8" r="8.2" fill="#ef4a28" stroke="#f5262e" stroke-width="0.9"/><circle cx="535.7" cy="989.1" r="3.8" fill="url(#hl)"/><circle cx="575.6" cy="1000.5" r="8.2" fill="#ef4a28" stroke="#f5262e" stroke-width="0.9"/><circle cx="573.2" cy="997.8" r="3.8" fill="url(#hl)"/><circle cx="613.4" cy="1009.7" r="8.2" fill="#ef4a28" stroke="#f5262e" stroke-width="0.9"/><circle cx="611" cy="1007" r="3.8" fill="url(#hl)"/><circle cx="650.7" cy="1019.2" r="8.2" fill="#ef4a28" stroke="#f5262e" stroke-width="0.9"/><circle cx="648.3" cy="1016.5" r="3.8" fill="url(#hl)"/><circle cx="688.1" cy="1025.4" r="8.2" fill="#ef4a28" stroke="#f5262e" stroke-width="0.9"/><circle cx="685.7" cy="1022.7" r="3.8" fill="url(#hl)"/>
<polygon points="132,1036.4 132,1005.4 137.8,996.7 149.8,1000.6 163.3,999.6 187.6,1002.5 213.1,1012.6 238,1016.9 262.9,1020.3 288.2,1024.1 313.4,1028 313.4,1036.4" fill="#898989"/>
<g opacity="0.35" filter="url(#hb)"><polyline points="132,1005.4 137.8,996.7 149.8,1000.6 163.3,999.6 187.6,1002.5 213.1,1012.6 238,1016.9 262.9,1020.3 288.2,1024.1 313.4,1028" fill="none" stroke="#fff" stroke-width="4.6" stroke-linejoin="round"/><circle cx="132" cy="1005.4" r="10" fill="#fff"/><circle cx="137.8" cy="996.7" r="10" fill="#fff"/><circle cx="149.8" cy="1000.6" r="10" fill="#fff"/><circle cx="163.3" cy="999.6" r="10" fill="#fff"/><circle cx="187.6" cy="1002.5" r="10" fill="#fff"/><circle cx="213.1" cy="1012.6" r="10" fill="#fff"/><circle cx="238" cy="1016.9" r="10" fill="#fff"/><circle cx="262.9" cy="1020.3" r="10" fill="#fff"/><circle cx="288.2" cy="1024.1" r="10" fill="#fff"/><circle cx="313.4" cy="1028" r="10" fill="#fff"/></g>
<polyline points="132,1005.4 137.8,996.7 149.8,1000.6 163.3,999.6 187.6,1002.5 213.1,1012.6 238,1016.9 262.9,1020.3 288.2,1024.1 313.4,1028" fill="none" stroke="#000000" stroke-width="2.0" stroke-linejoin="round"/>
<circle cx="132" cy="1005.4" r="8.7" fill="#000000"/><circle cx="129.6" cy="1002.7" r="3.8" fill="url(#hl)"/><circle cx="137.8" cy="996.7" r="8.7" fill="#000000"/><circle cx="135.4" cy="994" r="3.8" fill="url(#hl)"/><circle cx="149.8" cy="1000.6" r="8.7" fill="#000000"/><circle cx="147.4" cy="997.9" r="3.8" fill="url(#hl)"/><circle cx="163.3" cy="999.6" r="8.7" fill="#000000"/><circle cx="160.9" cy="996.9" r="3.8" fill="url(#hl)"/><circle cx="187.6" cy="1002.5" r="8.7" fill="#000000"/><circle cx="185.2" cy="999.8" r="3.8" fill="url(#hl)"/><circle cx="213.1" cy="1012.6" r="8.7" fill="#000000"/><circle cx="210.7" cy="1009.9" r="3.8" fill="url(#hl)"/><circle cx="238" cy="1016.9" r="8.7" fill="#000000"/><circle cx="235.6" cy="1014.2" r="3.8" fill="url(#hl)"/><circle cx="262.9" cy="1020.3" r="8.7" fill="#000000"/><circle cx="260.5" cy="1017.6" r="3.8" fill="url(#hl)"/><circle cx="288.2" cy="1024.1" r="8.7" fill="#000000"/><circle cx="285.8" cy="1021.4" r="3.8" fill="url(#hl)"/><circle cx="313.4" cy="1028" r="8.7" fill="#000000"/><circle cx="311" cy="1025.3" r="3.8" fill="url(#hl)"/>
<line x1="120" y1="1036.4" x2="1563" y2="1036.4" stroke="#0b161c" stroke-width="2.8"/>
<rect x="120" y="613.8" width="1443" height="506.4" fill="none" stroke="#0b161c" stroke-width="2.8"/>
<text x="106.5" y="1102.3" font-size="30.5" text-anchor="end" fill="#111" stroke="#111">-0.2</text>
<text x="106.5" y="1046" font-size="30.5" text-anchor="end" fill="#111" stroke="#111">0.0</text>
<text x="106.5" y="989.7" font-size="30.5" text-anchor="end" fill="#111" stroke="#111">0.2</text>
<text x="106.5" y="933.4" font-size="30.5" text-anchor="end" fill="#111" stroke="#111">0.4</text>
<text x="106.5" y="877" font-size="30.5" text-anchor="end" fill="#111" stroke="#111">0.6</text>
<text x="106.5" y="820.7" font-size="30.5" text-anchor="end" fill="#111" stroke="#111">0.8</text>
<text x="106.5" y="764.4" font-size="30.5" text-anchor="end" fill="#111" stroke="#111">1.0</text>
<text x="106.5" y="708.1" font-size="30.5" text-anchor="end" fill="#111" stroke="#111">1.2</text>
<text x="106.5" y="651.8" font-size="30.5" text-anchor="end" fill="#111" stroke="#111">1.4</text>
<text x="126.4" y="1159.2" font-size="30" text-anchor="middle" fill="#111" stroke="#111">0</text>
<text x="313.8" y="1159.2" font-size="30" text-anchor="middle" fill="#111" stroke="#111">300</text>
<text x="501.2" y="1159.2" font-size="30" text-anchor="middle" fill="#111" stroke="#111">600</text>
<text x="688.6" y="1159.2" font-size="30" text-anchor="middle" fill="#111" stroke="#111">900</text>
<text x="876" y="1159.2" font-size="30" text-anchor="middle" fill="#111" stroke="#111">1200</text>
<text x="1063.5" y="1159.2" font-size="30" text-anchor="middle" fill="#111" stroke="#111">1500</text>
<text x="1250.9" y="1159.2" font-size="30" text-anchor="middle" fill="#111" stroke="#111">1800</text>
<text x="1438.3" y="1159.2" font-size="30" text-anchor="middle" fill="#111" stroke="#111">2100</text>
<text x="841.5" y="1214" font-size="36.5" text-anchor="middle" fill="#111" stroke="#111">Time / h</text>
<text transform="translate(39.8 1155.2) rotate(-90)" font-size="35.85" fill="#111" stroke="#111">Exchange current density / A/cm<tspan font-size="24.5" dy="-14.5">2</tspan></text>
<text x="141.5" y="646.2" font-size="32.6" fill="#111" stroke="#111">After a constant anodic i=0.75A/cm<tspan font-size="22.2" dy="-12.8">2</tspan><tspan dy="12.8"> treatment</tspan></text>
<text x="141.8" y="691" font-size="32.6" fill="#111" stroke="#111">@700<tspan font-size="22" dy="-13.5">o</tspan><tspan dy="13.5">C</tspan></text>
<text class="ser" x="1554.9" y="671.5" font-size="54.5" text-anchor="end" fill="#111" stroke="#111">(b)</text>
<text transform="translate(237.8 1058.9) scale(1 1.04)" font-size="26.2" fill="#111111" stroke="#111111" stroke-width="0.75">Baseline</text>
<text transform="translate(620.1 1058) scale(1 1.04)" font-size="26.2" fill="#ee2d24" stroke="#ee2d24" stroke-width="0.75">SCT4</text>
<text transform="translate(824.2 1061.4) scale(1 1.04)" font-size="26.2" fill="#2e3192" stroke="#2e3192" stroke-width="0.75">SCT8</text>
<text transform="translate(1391.9 1060.3) scale(1 1.08)" font-size="26.2" fill="#00a84f" stroke="#00a84f" stroke-width="0.75">SCT12</text>
<rect x="120" y="1224.3" width="1443" height="506.7" fill="url(#bgc)"/>
<path d="M120 1703.7H133.3M120 1675.4H125.8M120 1647.2H133.3M120 1619H125.8M120 1590.7H133.3M120 1562.5H125.8M120 1534.2H133.3M120 1506H125.8M120 1477.8H133.3M120 1449.5H125.8M120 1421.3H133.3M120 1393H125.8M120 1364.8H133.3M120 1336.6H125.8M120 1308.3H133.3M120 1280.1H125.8M120 1251.8H133.3M127.5 1731V1717.7M189 1731V1724.7M250.6 1731V1717.7M312.1 1731V1724.7M373.7 1731V1717.7M435.2 1731V1724.7M496.7 1731V1717.7M558.3 1731V1724.7M619.8 1731V1717.7M681.4 1731V1724.7M742.9 1731V1717.7M804.4 1731V1724.7M866 1731V1717.7M927.5 1731V1724.7M989.1 1731V1717.7M1050.6 1731V1724.7M1112.1 1731V1717.7M1173.7 1731V1724.7M1235.2 1731V1717.7M1296.8 1731V1724.7M1358.3 1731V1717.7M1419.9 1731V1724.7M1481.4 1731V1717.7M1542.9 1731V1724.7" stroke="#000" stroke-width="2.6" fill="none"/>
<polygon points="128.2,1647.2 128.2,1402.6 135.9,1410.3 154.1,1416.8 170.9,1433.3 192.8,1424.1 209.6,1414.9 222.1,1425 238.4,1413.5 256.6,1440.9 279.5,1418.3 297.7,1424.1 316.5,1428.9 338,1430.8 363.8,1446.7 386.3,1446.8 404.5,1425.8 425,1428.4 449.3,1447.5 462,1429.7 486.9,1443.7 505.5,1429.1 529.8,1459.4 568.7,1443.7 617.5,1463.2 642.5,1467 691.8,1476 741,1474.1 773.6,1486 806.1,1488.9 838.7,1494 871.3,1497.5 937.5,1511.5 970.8,1519.3 1002.8,1520.6 1035.3,1530.8 1068.5,1551.3 1101,1561.4 1134.2,1562.8 1167.1,1575.8 1199.6,1584.7 1232.7,1595.2 1265.2,1590.8 1297.8,1608 1331,1613.2 1396.9,1622 1429,1627.2 1429,1647.2" fill="#3fb76d"/>
<g opacity="0.35" filter="url(#hb)"><polyline points="128.2,1402.6 135.9,1410.3 154.1,1416.8 170.9,1433.3 192.8,1424.1 209.6,1414.9 222.1,1425 238.4,1413.5 256.6,1440.9 279.5,1418.3 297.7,1424.1 316.5,1428.9 338,1430.8 363.8,1446.7 386.3,1446.8 404.5,1425.8 425,1428.4 449.3,1447.5 462,1429.7 486.9,1443.7 505.5,1429.1 529.8,1459.4 568.7,1443.7 617.5,1463.2 642.5,1467 691.8,1476 741,1474.1 773.6,1486 806.1,1488.9 838.7,1494 871.3,1497.5 937.5,1511.5 970.8,1519.3 1002.8,1520.6 1035.3,1530.8 1068.5,1551.3 1101,1561.4 1134.2,1562.8 1167.1,1575.8 1199.6,1584.7 1232.7,1595.2 1265.2,1590.8 1297.8,1608 1331,1613.2 1396.9,1622 1429,1627.2" fill="none" stroke="#fff" stroke-width="5.9" stroke-linejoin="round"/><circle cx="128.2" cy="1402.6" r="10" fill="#fff"/><circle cx="135.9" cy="1410.3" r="10" fill="#fff"/><circle cx="154.1" cy="1416.8" r="10" fill="#fff"/><circle cx="170.9" cy="1433.3" r="10" fill="#fff"/><circle cx="192.8" cy="1424.1" r="10" fill="#fff"/><circle cx="209.6" cy="1414.9" r="10" fill="#fff"/><circle cx="222.1" cy="1425" r="10" fill="#fff"/><circle cx="238.4" cy="1413.5" r="10" fill="#fff"/><circle cx="256.6" cy="1440.9" r="10" fill="#fff"/><circle cx="279.5" cy="1418.3" r="10" fill="#fff"/><circle cx="297.7" cy="1424.1" r="10" fill="#fff"/><circle cx="316.5" cy="1428.9" r="10" fill="#fff"/><circle cx="338" cy="1430.8" r="10" fill="#fff"/><circle cx="363.8" cy="1446.7" r="10" fill="#fff"/><circle cx="386.3" cy="1446.8" r="10" fill="#fff"/><circle cx="404.5" cy="1425.8" r="10" fill="#fff"/><circle cx="425" cy="1428.4" r="10" fill="#fff"/><circle cx="449.3" cy="1447.5" r="10" fill="#fff"/><circle cx="462" cy="1429.7" r="10" fill="#fff"/><circle cx="486.9" cy="1443.7" r="10" fill="#fff"/><circle cx="505.5" cy="1429.1" r="10" fill="#fff"/><circle cx="529.8" cy="1459.4" r="10" fill="#fff"/><circle cx="568.7" cy="1443.7" r="10" fill="#fff"/><circle cx="617.5" cy="1463.2" r="10" fill="#fff"/><circle cx="642.5" cy="1467" r="10" fill="#fff"/><circle cx="691.8" cy="1476" r="10" fill="#fff"/><circle cx="741" cy="1474.1" r="10" fill="#fff"/><circle cx="773.6" cy="1486" r="10" fill="#fff"/><circle cx="806.1" cy="1488.9" r="10" fill="#fff"/><circle cx="838.7" cy="1494" r="10" fill="#fff"/><circle cx="871.3" cy="1497.5" r="10" fill="#fff"/><circle cx="937.5" cy="1511.5" r="10" fill="#fff"/><circle cx="970.8" cy="1519.3" r="10" fill="#fff"/><circle cx="1002.8" cy="1520.6" r="10" fill="#fff"/><circle cx="1035.3" cy="1530.8" r="10" fill="#fff"/><circle cx="1068.5" cy="1551.3" r="10" fill="#fff"/><circle cx="1101" cy="1561.4" r="10" fill="#fff"/><circle cx="1134.2" cy="1562.8" r="10" fill="#fff"/><circle cx="1167.1" cy="1575.8" r="10" fill="#fff"/><circle cx="1199.6" cy="1584.7" r="10" fill="#fff"/><circle cx="1232.7" cy="1595.2" r="10" fill="#fff"/><circle cx="1265.2" cy="1590.8" r="10" fill="#fff"/><circle cx="1297.8" cy="1608" r="10" fill="#fff"/><circle cx="1331" cy="1613.2" r="10" fill="#fff"/><circle cx="1396.9" cy="1622" r="10" fill="#fff"/><circle cx="1429" cy="1627.2" r="10" fill="#fff"/></g>
<polyline points="128.2,1402.6 135.9,1410.3 154.1,1416.8 170.9,1433.3 192.8,1424.1 209.6,1414.9 222.1,1425 238.4,1413.5 256.6,1440.9 279.5,1418.3 297.7,1424.1 316.5,1428.9 338,1430.8 363.8,1446.7 386.3,1446.8 404.5,1425.8 425,1428.4 449.3,1447.5 462,1429.7 486.9,1443.7 505.5,1429.1 529.8,1459.4 568.7,1443.7 617.5,1463.2 642.5,1467 691.8,1476 741,1474.1 773.6,1486 806.1,1488.9 838.7,1494 871.3,1497.5 937.5,1511.5 970.8,1519.3 1002.8,1520.6 1035.3,1530.8 1068.5,1551.3 1101,1561.4 1134.2,1562.8 1167.1,1575.8 1199.6,1584.7 1232.7,1595.2 1265.2,1590.8 1297.8,1608 1331,1613.2 1396.9,1622 1429,1627.2" fill="none" stroke="#00a84f" stroke-width="3.3" stroke-linejoin="round"/>
<circle cx="128.2" cy="1402.6" r="8.7" fill="#00a84f"/><circle cx="125.8" cy="1399.9" r="3.8" fill="url(#hl)"/><circle cx="135.9" cy="1410.3" r="8.7" fill="#00a84f"/><circle cx="133.5" cy="1407.6" r="3.8" fill="url(#hl)"/><circle cx="154.1" cy="1416.8" r="8.7" fill="#00a84f"/><circle cx="151.7" cy="1414.1" r="3.8" fill="url(#hl)"/><circle cx="170.9" cy="1433.3" r="8.7" fill="#00a84f"/><circle cx="168.5" cy="1430.6" r="3.8" fill="url(#hl)"/><circle cx="192.8" cy="1424.1" r="8.7" fill="#00a84f"/><circle cx="190.4" cy="1421.4" r="3.8" fill="url(#hl)"/><circle cx="209.6" cy="1414.9" r="8.7" fill="#00a84f"/><circle cx="207.2" cy="1412.2" r="3.8" fill="url(#hl)"/><circle cx="222.1" cy="1425" r="8.7" fill="#00a84f"/><circle cx="219.7" cy="1422.3" r="3.8" fill="url(#hl)"/><circle cx="238.4" cy="1413.5" r="8.7" fill="#00a84f"/><circle cx="236" cy="1410.8" r="3.8" fill="url(#hl)"/><circle cx="256.6" cy="1440.9" r="8.7" fill="#00a84f"/><circle cx="254.2" cy="1438.2" r="3.8" fill="url(#hl)"/><circle cx="279.5" cy="1418.3" r="8.7" fill="#00a84f"/><circle cx="277.1" cy="1415.6" r="3.8" fill="url(#hl)"/><circle cx="297.7" cy="1424.1" r="8.7" fill="#00a84f"/><circle cx="295.3" cy="1421.4" r="3.8" fill="url(#hl)"/><circle cx="316.5" cy="1428.9" r="8.7" fill="#00a84f"/><circle cx="314.1" cy="1426.2" r="3.8" fill="url(#hl)"/><circle cx="338" cy="1430.8" r="8.7" fill="#00a84f"/><circle cx="335.6" cy="1428.1" r="3.8" fill="url(#hl)"/><circle cx="363.8" cy="1446.7" r="8.7" fill="#00a84f"/><circle cx="361.4" cy="1444" r="3.8" fill="url(#hl)"/><circle cx="386.3" cy="1446.8" r="8.7" fill="#00a84f"/><circle cx="383.9" cy="1444.1" r="3.8" fill="url(#hl)"/><circle cx="404.5" cy="1425.8" r="8.7" fill="#00a84f"/><circle cx="402.1" cy="1423.1" r="3.8" fill="url(#hl)"/><circle cx="425" cy="1428.4" r="8.7" fill="#00a84f"/><circle cx="422.6" cy="1425.7" r="3.8" fill="url(#hl)"/><circle cx="449.3" cy="1447.5" r="8.7" fill="#00a84f"/><circle cx="446.9" cy="1444.8" r="3.8" fill="url(#hl)"/><circle cx="462" cy="1429.7" r="8.7" fill="#00a84f"/><circle cx="459.6" cy="1427" r="3.8" fill="url(#hl)"/><circle cx="486.9" cy="1443.7" r="8.7" fill="#00a84f"/><circle cx="484.5" cy="1441" r="3.8" fill="url(#hl)"/><circle cx="505.5" cy="1429.1" r="8.7" fill="#00a84f"/><circle cx="503.1" cy="1426.4" r="3.8" fill="url(#hl)"/><circle cx="529.8" cy="1459.4" r="8.7" fill="#00a84f"/><circle cx="527.4" cy="1456.7" r="3.8" fill="url(#hl)"/><circle cx="568.7" cy="1443.7" r="8.7" fill="#00a84f"/><circle cx="566.3" cy="1441" r="3.8" fill="url(#hl)"/><circle cx="617.5" cy="1463.2" r="8.7" fill="#00a84f"/><circle cx="615.1" cy="1460.5" r="3.8" fill="url(#hl)"/><circle cx="642.5" cy="1467" r="8.7" fill="#00a84f"/><circle cx="640.1" cy="1464.3" r="3.8" fill="url(#hl)"/><circle cx="691.8" cy="1476" r="8.7" fill="#00a84f"/><circle cx="689.4" cy="1473.3" r="3.8" fill="url(#hl)"/><circle cx="741" cy="1474.1" r="8.7" fill="#00a84f"/><circle cx="738.6" cy="1471.4" r="3.8" fill="url(#hl)"/><circle cx="773.6" cy="1486" r="8.7" fill="#00a84f"/><circle cx="771.2" cy="1483.3" r="3.8" fill="url(#hl)"/><circle cx="806.1" cy="1488.9" r="8.7" fill="#00a84f"/><circle cx="803.7" cy="1486.2" r="3.8" fill="url(#hl)"/><circle cx="838.7" cy="1494" r="8.7" fill="#00a84f"/><circle cx="836.3" cy="1491.3" r="3.8" fill="url(#hl)"/><circle cx="871.3" cy="1497.5" r="8.7" fill="#00a84f"/><circle cx="868.9" cy="1494.8" r="3.8" fill="url(#hl)"/><circle cx="937.5" cy="1511.5" r="8.7" fill="#00a84f"/><circle cx="935.1" cy="1508.8" r="3.8" fill="url(#hl)"/><circle cx="970.8" cy="1519.3" r="8.7" fill="#00a84f"/><circle cx="968.4" cy="1516.6" r="3.8" fill="url(#hl)"/><circle cx="1002.8" cy="1520.6" r="8.7" fill="#00a84f"/><circle cx="1000.4" cy="1517.9" r="3.8" fill="url(#hl)"/><circle cx="1035.3" cy="1530.8" r="8.7" fill="#00a84f"/><circle cx="1032.9" cy="1528.1" r="3.8" fill="url(#hl)"/><circle cx="1068.5" cy="1551.3" r="8.7" fill="#00a84f"/><circle cx="1066.1" cy="1548.6" r="3.8" fill="url(#hl)"/><circle cx="1101" cy="1561.4" r="8.7" fill="#00a84f"/><circle cx="1098.6" cy="1558.7" r="3.8" fill="url(#hl)"/><circle cx="1134.2" cy="1562.8" r="8.7" fill="#00a84f"/><circle cx="1131.8" cy="1560.1" r="3.8" fill="url(#hl)"/><circle cx="1167.1" cy="1575.8" r="8.7" fill="#00a84f"/><circle cx="1164.7" cy="1573.1" r="3.8" fill="url(#hl)"/><circle cx="1199.6" cy="1584.7" r="8.7" fill="#00a84f"/><circle cx="1197.2" cy="1582" r="3.8" fill="url(#hl)"/><circle cx="1232.7" cy="1595.2" r="8.7" fill="#00a84f"/><circle cx="1230.3" cy="1592.5" r="3.8" fill="url(#hl)"/><circle cx="1265.2" cy="1590.8" r="8.7" fill="#00a84f"/><circle cx="1262.8" cy="1588.1" r="3.8" fill="url(#hl)"/><circle cx="1297.8" cy="1608" r="8.7" fill="#00a84f"/><circle cx="1295.4" cy="1605.3" r="3.8" fill="url(#hl)"/><circle cx="1331" cy="1613.2" r="8.7" fill="#00a84f"/><circle cx="1328.6" cy="1610.5" r="3.8" fill="url(#hl)"/><circle cx="1396.9" cy="1622" r="8.7" fill="#00a84f"/><circle cx="1394.5" cy="1619.3" r="3.8" fill="url(#hl)"/><circle cx="1429" cy="1627.2" r="8.7" fill="#00a84f"/><circle cx="1426.6" cy="1624.5" r="3.8" fill="url(#hl)"/>
<polygon points="127.6,1647.2 127.6,1478.7 148.3,1459.5 172.8,1472.9 197.2,1490.7 246,1498.4 271.9,1509.9 295.8,1506.4 320.3,1516 345.2,1522.1 369.6,1521.4 394.4,1523.2 418.3,1525.8 443.2,1531.6 467.7,1537 493,1553.1 517.5,1564 566.2,1565.6 591.1,1563.2 615.6,1572.5 640.2,1580.5 664.8,1589.1 689.8,1592.3 714.2,1600 738.5,1609.5 763,1612.4 787.5,1617.8 812.5,1623 836.8,1627.7 836.8,1647.2" fill="#5f7fc0"/>
<g opacity="0.35" filter="url(#hb)"><polyline points="127.6,1478.7 148.3,1459.5 172.8,1472.9 197.2,1490.7 246,1498.4 271.9,1509.9 295.8,1506.4 320.3,1516 345.2,1522.1 369.6,1521.4 394.4,1523.2 418.3,1525.8 443.2,1531.6 467.7,1537 493,1553.1 517.5,1564 566.2,1565.6 591.1,1563.2 615.6,1572.5 640.2,1580.5 664.8,1589.1 689.8,1592.3 714.2,1600 738.5,1609.5 763,1612.4 787.5,1617.8 812.5,1623 836.8,1627.7" fill="none" stroke="#fff" stroke-width="5.0" stroke-linejoin="round"/><circle cx="127.6" cy="1478.7" r="10" fill="#fff"/><circle cx="148.3" cy="1459.5" r="10" fill="#fff"/><circle cx="172.8" cy="1472.9" r="10" fill="#fff"/><circle cx="197.2" cy="1490.7" r="10" fill="#fff"/><circle cx="246" cy="1498.4" r="10" fill="#fff"/><circle cx="271.9" cy="1509.9" r="10" fill="#fff"/><circle cx="295.8" cy="1506.4" r="10" fill="#fff"/><circle cx="320.3" cy="1516" r="10" fill="#fff"/><circle cx="345.2" cy="1522.1" r="10" fill="#fff"/><circle cx="369.6" cy="1521.4" r="10" fill="#fff"/><circle cx="394.4" cy="1523.2" r="10" fill="#fff"/><circle cx="418.3" cy="1525.8" r="10" fill="#fff"/><circle cx="443.2" cy="1531.6" r="10" fill="#fff"/><circle cx="467.7" cy="1537" r="10" fill="#fff"/><circle cx="493" cy="1553.1" r="10" fill="#fff"/><circle cx="517.5" cy="1564" r="10" fill="#fff"/><circle cx="566.2" cy="1565.6" r="10" fill="#fff"/><circle cx="591.1" cy="1563.2" r="10" fill="#fff"/><circle cx="615.6" cy="1572.5" r="10" fill="#fff"/><circle cx="640.2" cy="1580.5" r="10" fill="#fff"/><circle cx="664.8" cy="1589.1" r="10" fill="#fff"/><circle cx="689.8" cy="1592.3" r="10" fill="#fff"/><circle cx="714.2" cy="1600" r="10" fill="#fff"/><circle cx="738.5" cy="1609.5" r="10" fill="#fff"/><circle cx="763" cy="1612.4" r="10" fill="#fff"/><circle cx="787.5" cy="1617.8" r="10" fill="#fff"/><circle cx="812.5" cy="1623" r="10" fill="#fff"/><circle cx="836.8" cy="1627.7" r="10" fill="#fff"/></g>
<polyline points="127.6,1478.7 148.3,1459.5 172.8,1472.9 197.2,1490.7 246,1498.4 271.9,1509.9 295.8,1506.4 320.3,1516 345.2,1522.1 369.6,1521.4 394.4,1523.2 418.3,1525.8 443.2,1531.6 467.7,1537 493,1553.1 517.5,1564 566.2,1565.6 591.1,1563.2 615.6,1572.5 640.2,1580.5 664.8,1589.1 689.8,1592.3 714.2,1600 738.5,1609.5 763,1612.4 787.5,1617.8 812.5,1623 836.8,1627.7" fill="none" stroke="#2a8ad0" stroke-width="3.8" stroke-linejoin="round" opacity="0.8"/>
<polyline points="127.6,1478.7 148.3,1459.5 172.8,1472.9 197.2,1490.7 246,1498.4 271.9,1509.9 295.8,1506.4 320.3,1516 345.2,1522.1 369.6,1521.4 394.4,1523.2 418.3,1525.8 443.2,1531.6 467.7,1537 493,1553.1 517.5,1564 566.2,1565.6 591.1,1563.2 615.6,1572.5 640.2,1580.5 664.8,1589.1 689.8,1592.3 714.2,1600 738.5,1609.5 763,1612.4 787.5,1617.8 812.5,1623 836.8,1627.7" fill="none" stroke="#2e3192" stroke-width="2.4" stroke-linejoin="round"/>
<circle cx="127.6" cy="1478.7" r="8.2" fill="#2e3192" stroke="#2a3a9c" stroke-width="0.6"/><circle cx="125.2" cy="1476" r="3.8" fill="url(#hl)"/><circle cx="148.3" cy="1459.5" r="8.2" fill="#2e3192" stroke="#2a3a9c" stroke-width="0.6"/><circle cx="145.9" cy="1456.8" r="3.8" fill="url(#hl)"/><circle cx="172.8" cy="1472.9" r="8.2" fill="#2e3192" stroke="#2a3a9c" stroke-width="0.6"/><circle cx="170.4" cy="1470.2" r="3.8" fill="url(#hl)"/><circle cx="197.2" cy="1490.7" r="8.2" fill="#2e3192" stroke="#2a3a9c" stroke-width="0.6"/><circle cx="194.8" cy="1488" r="3.8" fill="url(#hl)"/><circle cx="246" cy="1498.4" r="8.2" fill="#2e3192" stroke="#2a3a9c" stroke-width="0.6"/><circle cx="243.6" cy="1495.7" r="3.8" fill="url(#hl)"/><circle cx="271.9" cy="1509.9" r="8.2" fill="#2e3192" stroke="#2a3a9c" stroke-width="0.6"/><circle cx="269.5" cy="1507.2" r="3.8" fill="url(#hl)"/><circle cx="295.8" cy="1506.4" r="8.2" fill="#2e3192" stroke="#2a3a9c" stroke-width="0.6"/><circle cx="293.4" cy="1503.7" r="3.8" fill="url(#hl)"/><circle cx="320.3" cy="1516" r="8.2" fill="#2e3192" stroke="#2a3a9c" stroke-width="0.6"/><circle cx="317.9" cy="1513.3" r="3.8" fill="url(#hl)"/><circle cx="345.2" cy="1522.1" r="8.2" fill="#2e3192" stroke="#2a3a9c" stroke-width="0.6"/><circle cx="342.8" cy="1519.4" r="3.8" fill="url(#hl)"/><circle cx="369.6" cy="1521.4" r="8.2" fill="#2e3192" stroke="#2a3a9c" stroke-width="0.6"/><circle cx="367.2" cy="1518.7" r="3.8" fill="url(#hl)"/><circle cx="394.4" cy="1523.2" r="8.2" fill="#2e3192" stroke="#2a3a9c" stroke-width="0.6"/><circle cx="392" cy="1520.5" r="3.8" fill="url(#hl)"/><circle cx="418.3" cy="1525.8" r="8.2" fill="#2e3192" stroke="#2a3a9c" stroke-width="0.6"/><circle cx="415.9" cy="1523.1" r="3.8" fill="url(#hl)"/><circle cx="443.2" cy="1531.6" r="8.2" fill="#2e3192" stroke="#2a3a9c" stroke-width="0.6"/><circle cx="440.8" cy="1528.9" r="3.8" fill="url(#hl)"/><circle cx="467.7" cy="1537" r="8.2" fill="#2e3192" stroke="#2a3a9c" stroke-width="0.6"/><circle cx="465.3" cy="1534.3" r="3.8" fill="url(#hl)"/><circle cx="493" cy="1553.1" r="8.2" fill="#2e3192" stroke="#2a3a9c" stroke-width="0.6"/><circle cx="490.6" cy="1550.4" r="3.8" fill="url(#hl)"/><circle cx="517.5" cy="1564" r="8.2" fill="#2e3192" stroke="#2a3a9c" stroke-width="0.6"/><circle cx="515.1" cy="1561.3" r="3.8" fill="url(#hl)"/><circle cx="566.2" cy="1565.6" r="8.2" fill="#2e3192" stroke="#2a3a9c" stroke-width="0.6"/><circle cx="563.8" cy="1562.9" r="3.8" fill="url(#hl)"/><circle cx="591.1" cy="1563.2" r="8.2" fill="#2e3192" stroke="#2a3a9c" stroke-width="0.6"/><circle cx="588.7" cy="1560.5" r="3.8" fill="url(#hl)"/><circle cx="615.6" cy="1572.5" r="8.2" fill="#2e3192" stroke="#2a3a9c" stroke-width="0.6"/><circle cx="613.2" cy="1569.8" r="3.8" fill="url(#hl)"/><circle cx="640.2" cy="1580.5" r="8.2" fill="#2e3192" stroke="#2a3a9c" stroke-width="0.6"/><circle cx="637.8" cy="1577.8" r="3.8" fill="url(#hl)"/><circle cx="664.8" cy="1589.1" r="8.2" fill="#2e3192" stroke="#2a3a9c" stroke-width="0.6"/><circle cx="662.4" cy="1586.4" r="3.8" fill="url(#hl)"/><circle cx="689.8" cy="1592.3" r="8.2" fill="#2e3192" stroke="#2a3a9c" stroke-width="0.6"/><circle cx="687.4" cy="1589.6" r="3.8" fill="url(#hl)"/><circle cx="714.2" cy="1600" r="8.2" fill="#2e3192" stroke="#2a3a9c" stroke-width="0.6"/><circle cx="711.8" cy="1597.3" r="3.8" fill="url(#hl)"/><circle cx="738.5" cy="1609.5" r="8.2" fill="#2e3192" stroke="#2a3a9c" stroke-width="0.6"/><circle cx="736.1" cy="1606.8" r="3.8" fill="url(#hl)"/><circle cx="763" cy="1612.4" r="8.2" fill="#2e3192" stroke="#2a3a9c" stroke-width="0.6"/><circle cx="760.6" cy="1609.7" r="3.8" fill="url(#hl)"/><circle cx="787.5" cy="1617.8" r="8.2" fill="#2e3192" stroke="#2a3a9c" stroke-width="0.6"/><circle cx="785.1" cy="1615.1" r="3.8" fill="url(#hl)"/><circle cx="812.5" cy="1623" r="8.2" fill="#2e3192" stroke="#2a3a9c" stroke-width="0.6"/><circle cx="810.1" cy="1620.3" r="3.8" fill="url(#hl)"/><circle cx="836.8" cy="1627.7" r="8.2" fill="#2e3192" stroke="#2a3a9c" stroke-width="0.6"/><circle cx="834.4" cy="1625" r="3.8" fill="url(#hl)"/>
<polygon points="127.6,1647.2 127.6,1514.5 148.3,1509.3 164.6,1506.8 180.9,1518.3 197.2,1514.1 222.1,1526.6 246.4,1526 271.9,1527.9 295.8,1531.7 320.3,1540.5 345.2,1549.5 369.6,1552.4 394.1,1560.7 418.3,1560.7 443.2,1575 467.9,1580.5 493,1603.9 517,1608.5 541.9,1621.9 541.9,1647.2" fill="#f4978f"/>
<g opacity="0.35" filter="url(#hb)"><polyline points="127.6,1514.5 148.3,1509.3 164.6,1506.8 180.9,1518.3 197.2,1514.1 222.1,1526.6 246.4,1526 271.9,1527.9 295.8,1531.7 320.3,1540.5 345.2,1549.5 369.6,1552.4 394.1,1560.7 418.3,1560.7 443.2,1575 467.9,1580.5 493,1603.9 517,1608.5 541.9,1621.9" fill="none" stroke="#fff" stroke-width="4.800000000000001" stroke-linejoin="round"/><circle cx="127.6" cy="1514.5" r="10" fill="#fff"/><circle cx="148.3" cy="1509.3" r="10" fill="#fff"/><circle cx="164.6" cy="1506.8" r="10" fill="#fff"/><circle cx="180.9" cy="1518.3" r="10" fill="#fff"/><circle cx="197.2" cy="1514.1" r="10" fill="#fff"/><circle cx="222.1" cy="1526.6" r="10" fill="#fff"/><circle cx="246.4" cy="1526" r="10" fill="#fff"/><circle cx="271.9" cy="1527.9" r="10" fill="#fff"/><circle cx="295.8" cy="1531.7" r="10" fill="#fff"/><circle cx="320.3" cy="1540.5" r="10" fill="#fff"/><circle cx="345.2" cy="1549.5" r="10" fill="#fff"/><circle cx="369.6" cy="1552.4" r="10" fill="#fff"/><circle cx="394.1" cy="1560.7" r="10" fill="#fff"/><circle cx="418.3" cy="1560.7" r="10" fill="#fff"/><circle cx="443.2" cy="1575" r="10" fill="#fff"/><circle cx="467.9" cy="1580.5" r="10" fill="#fff"/><circle cx="493" cy="1603.9" r="10" fill="#fff"/><circle cx="517" cy="1608.5" r="10" fill="#fff"/><circle cx="541.9" cy="1621.9" r="10" fill="#fff"/></g>
<polyline points="127.6,1514.5 148.3,1509.3 164.6,1506.8 180.9,1518.3 197.2,1514.1 222.1,1526.6 246.4,1526 271.9,1527.9 295.8,1531.7 320.3,1540.5 345.2,1549.5 369.6,1552.4 394.1,1560.7 418.3,1560.7 443.2,1575 467.9,1580.5 493,1603.9 517,1608.5 541.9,1621.9" fill="none" stroke="#f0282c" stroke-width="2.2" stroke-linejoin="round"/>
<circle cx="127.6" cy="1514.5" r="8.2" fill="#ef4a28" stroke="#f5262e" stroke-width="0.9"/><circle cx="125.2" cy="1511.8" r="3.8" fill="url(#hl)"/><circle cx="148.3" cy="1509.3" r="8.2" fill="#ef4a28" stroke="#f5262e" stroke-width="0.9"/><circle cx="145.9" cy="1506.6" r="3.8" fill="url(#hl)"/><circle cx="164.6" cy="1506.8" r="8.2" fill="#ef4a28" stroke="#f5262e" stroke-width="0.9"/><circle cx="162.2" cy="1504.1" r="3.8" fill="url(#hl)"/><circle cx="180.9" cy="1518.3" r="8.2" fill="#ef4a28" stroke="#f5262e" stroke-width="0.9"/><circle cx="178.5" cy="1515.6" r="3.8" fill="url(#hl)"/><circle cx="197.2" cy="1514.1" r="8.2" fill="#ef4a28" stroke="#f5262e" stroke-width="0.9"/><circle cx="194.8" cy="1511.4" r="3.8" fill="url(#hl)"/><circle cx="222.1" cy="1526.6" r="8.2" fill="#ef4a28" stroke="#f5262e" stroke-width="0.9"/><circle cx="219.7" cy="1523.9" r="3.8" fill="url(#hl)"/><circle cx="246.4" cy="1526" r="8.2" fill="#ef4a28" stroke="#f5262e" stroke-width="0.9"/><circle cx="244" cy="1523.3" r="3.8" fill="url(#hl)"/><circle cx="271.9" cy="1527.9" r="8.2" fill="#ef4a28" stroke="#f5262e" stroke-width="0.9"/><circle cx="269.5" cy="1525.2" r="3.8" fill="url(#hl)"/><circle cx="295.8" cy="1531.7" r="8.2" fill="#ef4a28" stroke="#f5262e" stroke-width="0.9"/><circle cx="293.4" cy="1529" r="3.8" fill="url(#hl)"/><circle cx="320.3" cy="1540.5" r="8.2" fill="#ef4a28" stroke="#f5262e" stroke-width="0.9"/><circle cx="317.9" cy="1537.8" r="3.8" fill="url(#hl)"/><circle cx="345.2" cy="1549.5" r="8.2" fill="#ef4a28" stroke="#f5262e" stroke-width="0.9"/><circle cx="342.8" cy="1546.8" r="3.8" fill="url(#hl)"/><circle cx="369.6" cy="1552.4" r="8.2" fill="#ef4a28" stroke="#f5262e" stroke-width="0.9"/><circle cx="367.2" cy="1549.7" r="3.8" fill="url(#hl)"/><circle cx="394.1" cy="1560.7" r="8.2" fill="#ef4a28" stroke="#f5262e" stroke-width="0.9"/><circle cx="391.7" cy="1558" r="3.8" fill="url(#hl)"/><circle cx="418.3" cy="1560.7" r="8.2" fill="#ef4a28" stroke="#f5262e" stroke-width="0.9"/><circle cx="415.9" cy="1558" r="3.8" fill="url(#hl)"/><circle cx="443.2" cy="1575" r="8.2" fill="#ef4a28" stroke="#f5262e" stroke-width="0.9"/><circle cx="440.8" cy="1572.3" r="3.8" fill="url(#hl)"/><circle cx="467.9" cy="1580.5" r="8.2" fill="#ef4a28" stroke="#f5262e" stroke-width="0.9"/><circle cx="465.5" cy="1577.8" r="3.8" fill="url(#hl)"/><circle cx="493" cy="1603.9" r="8.2" fill="#ef4a28" stroke="#f5262e" stroke-width="0.9"/><circle cx="490.6" cy="1601.2" r="3.8" fill="url(#hl)"/><circle cx="517" cy="1608.5" r="8.2" fill="#ef4a28" stroke="#f5262e" stroke-width="0.9"/><circle cx="514.6" cy="1605.8" r="3.8" fill="url(#hl)"/><circle cx="541.9" cy="1621.9" r="8.2" fill="#ef4a28" stroke="#f5262e" stroke-width="0.9"/><circle cx="539.5" cy="1619.2" r="3.8" fill="url(#hl)"/>
<polygon points="127.6,1647.2 127.6,1601 134.9,1606.2 143,1608.3 151.5,1613.4 168.5,1621.5 184.7,1627.9 201.3,1635.1 217.9,1636.4 233.9,1637.1 233.9,1647.2" fill="#898989"/>
<g opacity="0.35" filter="url(#hb)"><polyline points="127.6,1601 134.9,1606.2 143,1608.3 151.5,1613.4 168.5,1621.5 184.7,1627.9 201.3,1635.1 217.9,1636.4 233.9,1637.1" fill="none" stroke="#fff" stroke-width="4.6" stroke-linejoin="round"/><circle cx="127.6" cy="1601" r="10" fill="#fff"/><circle cx="134.9" cy="1606.2" r="10" fill="#fff"/><circle cx="143" cy="1608.3" r="10" fill="#fff"/><circle cx="151.5" cy="1613.4" r="10" fill="#fff"/><circle cx="168.5" cy="1621.5" r="10" fill="#fff"/><circle cx="184.7" cy="1627.9" r="10" fill="#fff"/><circle cx="201.3" cy="1635.1" r="10" fill="#fff"/><circle cx="217.9" cy="1636.4" r="10" fill="#fff"/><circle cx="233.9" cy="1637.1" r="10" fill="#fff"/></g>
<polyline points="127.6,1601 134.9,1606.2 143,1608.3 151.5,1613.4 168.5,1621.5 184.7,1627.9 201.3,1635.1 217.9,1636.4 233.9,1637.1" fill="none" stroke="#000000" stroke-width="2.0" stroke-linejoin="round"/>
<circle cx="127.6" cy="1601" r="8.7" fill="#000000"/><circle cx="125.2" cy="1598.3" r="3.8" fill="url(#hl)"/><circle cx="134.9" cy="1606.2" r="8.7" fill="#000000"/><circle cx="132.5" cy="1603.5" r="3.8" fill="url(#hl)"/><circle cx="143" cy="1608.3" r="8.7" fill="#000000"/><circle cx="140.6" cy="1605.6" r="3.8" fill="url(#hl)"/><circle cx="151.5" cy="1613.4" r="8.7" fill="#000000"/><circle cx="149.1" cy="1610.7" r="3.8" fill="url(#hl)"/><circle cx="168.5" cy="1621.5" r="8.7" fill="#000000"/><circle cx="166.1" cy="1618.8" r="3.8" fill="url(#hl)"/><circle cx="184.7" cy="1627.9" r="8.7" fill="#000000"/><circle cx="182.3" cy="1625.2" r="3.8" fill="url(#hl)"/><circle cx="201.3" cy="1635.1" r="8.7" fill="#000000"/><circle cx="198.9" cy="1632.4" r="3.8" fill="url(#hl)"/><circle cx="217.9" cy="1636.4" r="8.7" fill="#000000"/><circle cx="215.5" cy="1633.7" r="3.8" fill="url(#hl)"/><circle cx="233.9" cy="1637.1" r="8.7" fill="#000000"/><circle cx="231.5" cy="1634.4" r="3.8" fill="url(#hl)"/>
<line x1="120" y1="1647.2" x2="1563" y2="1647.2" stroke="#0b161c" stroke-width="2.8"/>
<rect x="120" y="1224.3" width="1443" height="506.7" fill="none" stroke="#0b161c" stroke-width="2.8"/>
<text x="106.5" y="1713.3" font-size="30.5" text-anchor="end" fill="#111" stroke="#111">-0.2</text>
<text x="106.5" y="1656.8" font-size="30.5" text-anchor="end" fill="#111" stroke="#111">0.0</text>
<text x="106.5" y="1600.3" font-size="30.5" text-anchor="end" fill="#111" stroke="#111">0.2</text>
<text x="106.5" y="1543.8" font-size="30.5" text-anchor="end" fill="#111" stroke="#111">0.4</text>
<text x="106.5" y="1487.4" font-size="30.5" text-anchor="end" fill="#111" stroke="#111">0.6</text>
<text x="106.5" y="1430.9" font-size="30.5" text-anchor="end" fill="#111" stroke="#111">0.8</text>
<text x="106.5" y="1374.4" font-size="30.5" text-anchor="end" fill="#111" stroke="#111">1.0</text>
<text x="106.5" y="1317.9" font-size="30.5" text-anchor="end" fill="#111" stroke="#111">1.2</text>
<text x="106.5" y="1261.4" font-size="30.5" text-anchor="end" fill="#111" stroke="#111">1.4</text>
<text x="127.8" y="1770" font-size="30" text-anchor="middle" fill="#111" stroke="#111">0</text>
<text x="250.9" y="1770" font-size="30" text-anchor="middle" fill="#111" stroke="#111">300</text>
<text x="374" y="1770" font-size="30" text-anchor="middle" fill="#111" stroke="#111">600</text>
<text x="497" y="1770" font-size="30" text-anchor="middle" fill="#111" stroke="#111">900</text>
<text x="620.1" y="1770" font-size="30" text-anchor="middle" fill="#111" stroke="#111">1200</text>
<text x="743.2" y="1770" font-size="30" text-anchor="middle" fill="#111" stroke="#111">1500</text>
<text x="866.3" y="1770" font-size="30" text-anchor="middle" fill="#111" stroke="#111">1800</text>
<text x="989.4" y="1770" font-size="30" text-anchor="middle" fill="#111" stroke="#111">2100</text>
<text x="1112.4" y="1770" font-size="30" text-anchor="middle" fill="#111" stroke="#111">2400</text>
<text x="1235.5" y="1770" font-size="30" text-anchor="middle" fill="#111" stroke="#111">2700</text>
<text x="1358.6" y="1770" font-size="30" text-anchor="middle" fill="#111" stroke="#111">3000</text>
<text x="1481.7" y="1770" font-size="30" text-anchor="middle" fill="#111" stroke="#111">3300</text>
<text x="841.5" y="1824.8" font-size="36.5" text-anchor="middle" fill="#111" stroke="#111">Time / h</text>
<text transform="translate(39.8 1765.7) rotate(-90)" font-size="35.85" fill="#111" stroke="#111">Exchange current density / A/cm<tspan font-size="24.5" dy="-14.5">2</tspan></text>
<text x="141.5" y="1256.7" font-size="32.6" fill="#111" stroke="#111">After a constant anodic i=0.5A/cm<tspan font-size="22.2" dy="-12.8">2</tspan><tspan dy="12.8"> treatment</tspan></text>
<text x="141.8" y="1301.5" font-size="32.6" fill="#111" stroke="#111">@700<tspan font-size="22" dy="-13.5">o</tspan><tspan dy="13.5">C</tspan></text>
<text class="ser" x="1553.4" y="1281.5" font-size="54.5" text-anchor="end" fill="#111" stroke="#111">(c)</text>
<text transform="translate(164.7 1676) scale(1 1.04)" font-size="26.2" fill="#111111" stroke="#111111" stroke-width="0.75">Baseline</text>
<text transform="translate(516.4 1669.4) scale(1 1.04)" font-size="26.2" fill="#ee2d24" stroke="#ee2d24" stroke-width="0.75">SCT4</text>
<text transform="translate(808.8 1671.8) scale(1 1.04)" font-size="26.2" fill="#2e3192" stroke="#2e3192" stroke-width="0.75">SCT8</text>
<text transform="translate(1386 1670.5) scale(1 1.08)" font-size="26.2" fill="#00a84f" stroke="#00a84f" stroke-width="0.75">SCT12</text>
</svg>
</body></html>
